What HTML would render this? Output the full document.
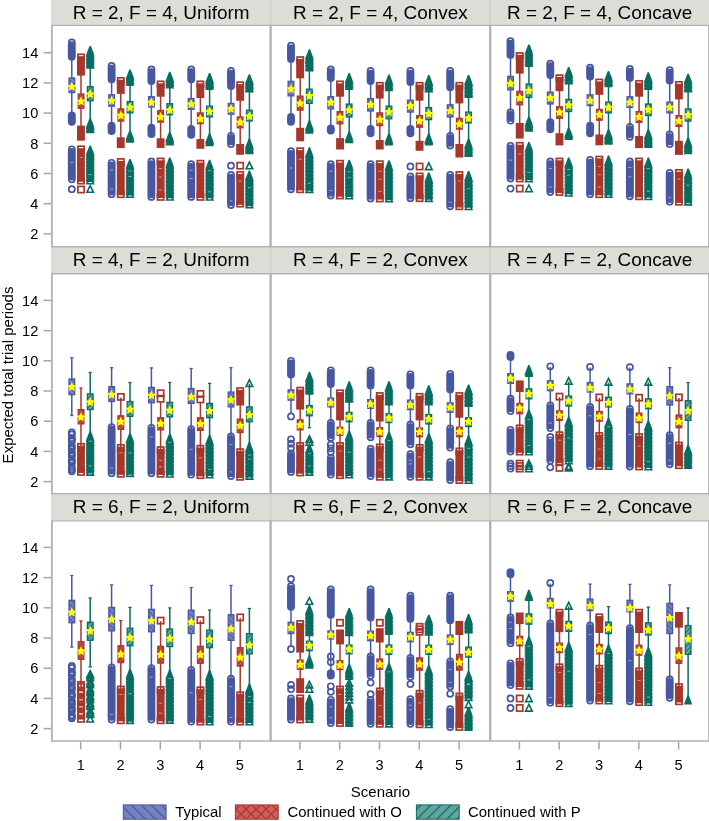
<!DOCTYPE html>
<html lang="en"><head><meta charset="utf-8"><title>Expected total trial periods by scenario</title>
<style>html,body{margin:0;padding:0;background:#fff}body{width:709px;height:821px;overflow:hidden;font-family:"Liberation Sans",Arial,sans-serif}svg{display:block}text{font-family:"Liberation Sans",Arial,sans-serif;fill:#000}</style>
</head><body>
<svg width="709" height="821" viewBox="0 0 709 821">
<defs>
<pattern id="hb" width="3.4" height="3.4" patternUnits="userSpaceOnUse" patternTransform="rotate(45)"><rect width="4" height="4" fill="#7482bd"/><line x1="0" y1="0.5" x2="4" y2="0.5" stroke="#4757a2" stroke-width="0.9"/></pattern>
<pattern id="hr" width="2.7" height="2.7" patternUnits="userSpaceOnUse" patternTransform="rotate(45)"><rect width="4" height="4" fill="#cf5d59"/><path d="M0 0.5H4M0.5 0V4" stroke="#a7372b" stroke-width="0.9"/></pattern>
<pattern id="hg" width="3.4" height="3.4" patternUnits="userSpaceOnUse" patternTransform="rotate(-45)"><rect width="4" height="4" fill="#62a59f"/><line x1="0" y1="0.5" x2="4" y2="0.5" stroke="#086c61" stroke-width="0.9"/></pattern>
<pattern id="lb" width="7.1" height="7.1" patternUnits="userSpaceOnUse" patternTransform="rotate(45)"><rect width="8" height="8" fill="#7482bd"/><line x1="0" y1="0.6" x2="8" y2="0.6" stroke="#4757a2" stroke-width="1.2"/></pattern>
<pattern id="lr" width="7.1" height="7.1" patternUnits="userSpaceOnUse" patternTransform="rotate(45)"><rect width="8" height="8" fill="#cf5d59"/><path d="M0 0.6H8M0.6 0V8" stroke="#a7372b" stroke-width="1.1"/></pattern>
<pattern id="lg" width="7.1" height="7.1" patternUnits="userSpaceOnUse" patternTransform="rotate(-45)"><rect width="8" height="8" fill="#62a59f"/><line x1="0" y1="0.6" x2="8" y2="0.6" stroke="#086c61" stroke-width="1.2"/></pattern>
<path id="st" d="M0.00 -5.00L1.47 -2.02L4.76 -1.55L2.38 0.77L2.94 4.05L0.00 2.50L-2.94 4.05L-2.38 0.77L-4.76 -1.55L-1.47 -2.02Z" fill="#ffff00"/>
<circle id="mc" r="3.05" fill="none" stroke="#4757a2" stroke-width="1.7"/>
<rect id="ms" x="-3.1" y="-3.1" width="6.2" height="6.2" fill="none" stroke="#a7372b" stroke-width="1.7"/>
<path id="mt" d="M0 -3.6L3.3 3.1H-3.3Z" fill="none" stroke="#086c61" stroke-width="1.6" stroke-linejoin="miter"/>
</defs>
<rect width="709" height="821" fill="#fff"/>
<rect x="51" y="0" width="658.9" height="24.9" fill="#dbddd7"/>
<line x1="270.6" y1="0" x2="270.6" y2="24.9" stroke="#cfd1cc" stroke-width="1.6"/>
<line x1="490.2" y1="0" x2="490.2" y2="24.9" stroke="#cfd1cc" stroke-width="1.6"/>
<rect x="51" y="247.3" width="658.9" height="25.9" fill="#dbddd7"/>
<line x1="270.6" y1="247.3" x2="270.6" y2="273.2" stroke="#cfd1cc" stroke-width="1.6"/>
<line x1="490.2" y1="247.3" x2="490.2" y2="273.2" stroke="#cfd1cc" stroke-width="1.6"/>
<rect x="51" y="494" width="658.9" height="26.4" fill="#dbddd7"/>
<line x1="270.6" y1="494" x2="270.6" y2="520.4" stroke="#cfd1cc" stroke-width="1.6"/>
<line x1="490.2" y1="494" x2="490.2" y2="520.4" stroke="#cfd1cc" stroke-width="1.6"/>
<line x1="51" y1="25.4" x2="709.9" y2="25.4" stroke="#b2b2b2" stroke-width="1.4"/>
<line x1="51" y1="246.7" x2="709.9" y2="246.7" stroke="#b2b2b2" stroke-width="1.4"/>
<line x1="51.9" y1="24.9" x2="51.9" y2="247.4" stroke="#b2b2b2" stroke-width="1.8"/>
<line x1="270.6" y1="24.9" x2="270.6" y2="247.4" stroke="#b2b2b2" stroke-width="2.4"/>
<line x1="490.2" y1="24.9" x2="490.2" y2="247.4" stroke="#b2b2b2" stroke-width="2.4"/>
<line x1="709" y1="24.9" x2="709" y2="247.4" stroke="#b2b2b2" stroke-width="1.8"/>
<line x1="51" y1="273.7" x2="709.9" y2="273.7" stroke="#b2b2b2" stroke-width="1.4"/>
<line x1="51" y1="493.6" x2="709.9" y2="493.6" stroke="#b2b2b2" stroke-width="1.4"/>
<line x1="51.9" y1="273.2" x2="51.9" y2="494.3" stroke="#b2b2b2" stroke-width="1.8"/>
<line x1="270.6" y1="273.2" x2="270.6" y2="494.3" stroke="#b2b2b2" stroke-width="2.4"/>
<line x1="490.2" y1="273.2" x2="490.2" y2="494.3" stroke="#b2b2b2" stroke-width="2.4"/>
<line x1="709" y1="273.2" x2="709" y2="494.3" stroke="#b2b2b2" stroke-width="1.8"/>
<line x1="51" y1="520.9" x2="709.9" y2="520.9" stroke="#b2b2b2" stroke-width="1.4"/>
<line x1="51" y1="741" x2="709.9" y2="741" stroke="#b2b2b2" stroke-width="1.4"/>
<line x1="51.9" y1="520.4" x2="51.9" y2="741.7" stroke="#b2b2b2" stroke-width="1.8"/>
<line x1="270.6" y1="520.4" x2="270.6" y2="741.7" stroke="#b2b2b2" stroke-width="2.4"/>
<line x1="490.2" y1="520.4" x2="490.2" y2="741.7" stroke="#b2b2b2" stroke-width="2.4"/>
<line x1="709" y1="520.4" x2="709" y2="741.7" stroke="#b2b2b2" stroke-width="1.8"/>
<text x="161.2" y="18.6" font-size="18.95" text-anchor="middle">R = 2, F = 4, Uniform</text>
<text x="380.4" y="18.6" font-size="18.95" text-anchor="middle">R = 2, F = 4, Convex</text>
<text x="599.6" y="18.6" font-size="18.95" text-anchor="middle">R = 2, F = 4, Concave</text>
<text x="161.2" y="266.3" font-size="18.95" text-anchor="middle">R = 4, F = 2, Uniform</text>
<text x="380.4" y="266.3" font-size="18.95" text-anchor="middle">R = 4, F = 2, Convex</text>
<text x="599.6" y="266.3" font-size="18.95" text-anchor="middle">R = 4, F = 2, Concave</text>
<text x="161.2" y="513" font-size="18.95" text-anchor="middle">R = 6, F = 2, Uniform</text>
<text x="380.4" y="513" font-size="18.95" text-anchor="middle">R = 6, F = 2, Convex</text>
<text x="599.6" y="513" font-size="18.95" text-anchor="middle">R = 6, F = 2, Concave</text>
<line x1="43.6" y1="52.7" x2="51" y2="52.7" stroke="#a6a6a6" stroke-width="1.5"/>
<text x="38.3" y="57.9" font-size="14.6" text-anchor="end">14</text>
<line x1="43.6" y1="82.9" x2="51" y2="82.9" stroke="#a6a6a6" stroke-width="1.5"/>
<text x="38.3" y="88.1" font-size="14.6" text-anchor="end">12</text>
<line x1="43.6" y1="113.1" x2="51" y2="113.1" stroke="#a6a6a6" stroke-width="1.5"/>
<text x="38.3" y="118.3" font-size="14.6" text-anchor="end">10</text>
<line x1="43.6" y1="143.3" x2="51" y2="143.3" stroke="#a6a6a6" stroke-width="1.5"/>
<text x="38.3" y="148.5" font-size="14.6" text-anchor="end">8</text>
<line x1="43.6" y1="173.5" x2="51" y2="173.5" stroke="#a6a6a6" stroke-width="1.5"/>
<text x="38.3" y="178.7" font-size="14.6" text-anchor="end">6</text>
<line x1="43.6" y1="203.7" x2="51" y2="203.7" stroke="#a6a6a6" stroke-width="1.5"/>
<text x="38.3" y="208.9" font-size="14.6" text-anchor="end">4</text>
<line x1="43.6" y1="233.9" x2="51" y2="233.9" stroke="#a6a6a6" stroke-width="1.5"/>
<text x="38.3" y="239.1" font-size="14.6" text-anchor="end">2</text>
<line x1="43.6" y1="300.4" x2="51" y2="300.4" stroke="#a6a6a6" stroke-width="1.5"/>
<text x="38.3" y="305.6" font-size="14.6" text-anchor="end">14</text>
<line x1="43.6" y1="330.6" x2="51" y2="330.6" stroke="#a6a6a6" stroke-width="1.5"/>
<text x="38.3" y="335.8" font-size="14.6" text-anchor="end">12</text>
<line x1="43.6" y1="360.8" x2="51" y2="360.8" stroke="#a6a6a6" stroke-width="1.5"/>
<text x="38.3" y="366" font-size="14.6" text-anchor="end">10</text>
<line x1="43.6" y1="391" x2="51" y2="391" stroke="#a6a6a6" stroke-width="1.5"/>
<text x="38.3" y="396.2" font-size="14.6" text-anchor="end">8</text>
<line x1="43.6" y1="421.2" x2="51" y2="421.2" stroke="#a6a6a6" stroke-width="1.5"/>
<text x="38.3" y="426.4" font-size="14.6" text-anchor="end">6</text>
<line x1="43.6" y1="451.4" x2="51" y2="451.4" stroke="#a6a6a6" stroke-width="1.5"/>
<text x="38.3" y="456.6" font-size="14.6" text-anchor="end">4</text>
<line x1="43.6" y1="481.6" x2="51" y2="481.6" stroke="#a6a6a6" stroke-width="1.5"/>
<text x="38.3" y="486.8" font-size="14.6" text-anchor="end">2</text>
<line x1="43.6" y1="547.4" x2="51" y2="547.4" stroke="#a6a6a6" stroke-width="1.5"/>
<text x="38.3" y="552.6" font-size="14.6" text-anchor="end">14</text>
<line x1="43.6" y1="577.6" x2="51" y2="577.6" stroke="#a6a6a6" stroke-width="1.5"/>
<text x="38.3" y="582.8" font-size="14.6" text-anchor="end">12</text>
<line x1="43.6" y1="607.8" x2="51" y2="607.8" stroke="#a6a6a6" stroke-width="1.5"/>
<text x="38.3" y="613" font-size="14.6" text-anchor="end">10</text>
<line x1="43.6" y1="638" x2="51" y2="638" stroke="#a6a6a6" stroke-width="1.5"/>
<text x="38.3" y="643.2" font-size="14.6" text-anchor="end">8</text>
<line x1="43.6" y1="668.2" x2="51" y2="668.2" stroke="#a6a6a6" stroke-width="1.5"/>
<text x="38.3" y="673.4" font-size="14.6" text-anchor="end">6</text>
<line x1="43.6" y1="698.4" x2="51" y2="698.4" stroke="#a6a6a6" stroke-width="1.5"/>
<text x="38.3" y="703.6" font-size="14.6" text-anchor="end">4</text>
<line x1="43.6" y1="728.6" x2="51" y2="728.6" stroke="#a6a6a6" stroke-width="1.5"/>
<text x="38.3" y="733.8" font-size="14.6" text-anchor="end">2</text>
<line x1="80.7" y1="741.5" x2="80.7" y2="749.5" stroke="#a6a6a6" stroke-width="1.5"/>
<text x="80.7" y="770.3" font-size="14.6" text-anchor="middle">1</text>
<line x1="120.5" y1="741.5" x2="120.5" y2="749.5" stroke="#a6a6a6" stroke-width="1.5"/>
<text x="120.5" y="770.3" font-size="14.6" text-anchor="middle">2</text>
<line x1="160.3" y1="741.5" x2="160.3" y2="749.5" stroke="#a6a6a6" stroke-width="1.5"/>
<text x="160.3" y="770.3" font-size="14.6" text-anchor="middle">3</text>
<line x1="200.1" y1="741.5" x2="200.1" y2="749.5" stroke="#a6a6a6" stroke-width="1.5"/>
<text x="200.1" y="770.3" font-size="14.6" text-anchor="middle">4</text>
<line x1="239.9" y1="741.5" x2="239.9" y2="749.5" stroke="#a6a6a6" stroke-width="1.5"/>
<text x="239.9" y="770.3" font-size="14.6" text-anchor="middle">5</text>
<line x1="299.9" y1="741.5" x2="299.9" y2="749.5" stroke="#a6a6a6" stroke-width="1.5"/>
<text x="299.9" y="770.3" font-size="14.6" text-anchor="middle">1</text>
<line x1="339.7" y1="741.5" x2="339.7" y2="749.5" stroke="#a6a6a6" stroke-width="1.5"/>
<text x="339.7" y="770.3" font-size="14.6" text-anchor="middle">2</text>
<line x1="379.5" y1="741.5" x2="379.5" y2="749.5" stroke="#a6a6a6" stroke-width="1.5"/>
<text x="379.5" y="770.3" font-size="14.6" text-anchor="middle">3</text>
<line x1="419.3" y1="741.5" x2="419.3" y2="749.5" stroke="#a6a6a6" stroke-width="1.5"/>
<text x="419.3" y="770.3" font-size="14.6" text-anchor="middle">4</text>
<line x1="459.1" y1="741.5" x2="459.1" y2="749.5" stroke="#a6a6a6" stroke-width="1.5"/>
<text x="459.1" y="770.3" font-size="14.6" text-anchor="middle">5</text>
<line x1="519.4" y1="741.5" x2="519.4" y2="749.5" stroke="#a6a6a6" stroke-width="1.5"/>
<text x="519.4" y="770.3" font-size="14.6" text-anchor="middle">1</text>
<line x1="559.2" y1="741.5" x2="559.2" y2="749.5" stroke="#a6a6a6" stroke-width="1.5"/>
<text x="559.2" y="770.3" font-size="14.6" text-anchor="middle">2</text>
<line x1="599" y1="741.5" x2="599" y2="749.5" stroke="#a6a6a6" stroke-width="1.5"/>
<text x="599" y="770.3" font-size="14.6" text-anchor="middle">3</text>
<line x1="638.8" y1="741.5" x2="638.8" y2="749.5" stroke="#a6a6a6" stroke-width="1.5"/>
<text x="638.8" y="770.3" font-size="14.6" text-anchor="middle">4</text>
<line x1="678.6" y1="741.5" x2="678.6" y2="749.5" stroke="#a6a6a6" stroke-width="1.5"/>
<text x="678.6" y="770.3" font-size="14.6" text-anchor="middle">5</text>
<text x="380.4" y="797.2" font-size="15" text-anchor="middle">Scenario</text>
<text transform="translate(12.6 375) rotate(-90)" font-size="15" text-anchor="middle">Expected total trial periods</text>
<rect x="123.3" y="804.9" width="42.8" height="14.3" fill="url(#lb)" stroke="#4757a2" stroke-width="1"/>
<text x="175.3" y="817.3" font-size="14.9">Typical</text>
<rect x="235.4" y="804.9" width="42.8" height="14.3" fill="url(#lr)" stroke="#a7372b" stroke-width="1"/>
<text x="287.5" y="817.3" font-size="14.9">Continued with O</text>
<rect x="416.4" y="804.9" width="42.8" height="14.3" fill="url(#lg)" stroke="#086c61" stroke-width="1"/>
<text x="468" y="817.3" font-size="14.9">Continued with P</text>
<g>
<line x1="71.8" y1="57.7" x2="71.8" y2="118.1" stroke="#4757a2" stroke-width="1.5"/>
<line x1="71.8" y1="45.2" x2="71.8" y2="56.8" stroke="#4757a2" stroke-width="7.9" stroke-linecap="round"/>
<use href="#mc" x="71.8" y="42.5"/>
<line x1="71.8" y1="115.5" x2="71.8" y2="121.7" stroke="#4757a2" stroke-width="7.9" stroke-linecap="round"/>
<line x1="71.8" y1="152" x2="71.8" y2="176.6" stroke="#4757a2" stroke-width="7.9" stroke-linecap="round"/>
<use href="#mc" x="71.8" y="149.3"/>
<use href="#mc" x="71.8" y="179.3"/>
<line x1="70.3" y1="162.4" x2="73.3" y2="162.4" stroke="#fff" stroke-width="0.8" opacity="0.6"/>
<use href="#mc" x="71.8" y="189.2"/>
<rect x="69" y="78" width="5.7" height="14.6" fill="url(#hb)" stroke="#4757a2" stroke-width="1.25"/>
<line x1="69" y1="85.8" x2="74.6" y2="85.8" stroke="#4757a2" stroke-width="1"/>
<use href="#st" x="71.8" y="86.7"/>
<line x1="81" y1="72.6" x2="81" y2="132.1" stroke="#a7372b" stroke-width="1.5"/>
<rect x="77" y="56.2" width="7.9" height="19.4" fill="#a7372b"/>
<use href="#ms" x="81" y="57.4"/>
<rect x="77" y="125.6" width="7.9" height="15.1" fill="#a7372b"/>
<rect x="77" y="148.2" width="7.9" height="33.6" fill="#a7372b"/>
<use href="#ms" x="81" y="149.3"/>
<use href="#ms" x="81" y="180.6"/>
<line x1="79.5" y1="157.4" x2="82.5" y2="157.4" stroke="#fff" stroke-width="0.8" opacity="0.6"/>
<use href="#ms" x="81" y="189.5"/>
<rect x="78.2" y="94" width="5.7" height="14.3" fill="url(#hr)" stroke="#a7372b" stroke-width="1.25"/>
<line x1="78.2" y1="101.6" x2="83.8" y2="101.6" stroke="#a7372b" stroke-width="1"/>
<use href="#st" x="81" y="101.5"/>
<line x1="90.2" y1="65.8" x2="90.2" y2="124.8" stroke="#086c61" stroke-width="1.5"/>
<path d="M89.5 46.1h1.4L93.9 53.8V68.8H86.5V53.8Z" fill="#086c61"/>
<path d="M86.5 54.3V68.8M93.9 55.1V68.8" stroke="#086c61" stroke-width="0.9" stroke-dasharray="3 0.6" fill="none"/>
<path d="M89.5 118.3h1.4L93.9 126V133.2H86.5V126Z" fill="#086c61"/>
<path d="M86.5 126.5V133.2M93.9 127.3V133.2" stroke="#086c61" stroke-width="0.9" stroke-dasharray="3 0.6" fill="none"/>
<path d="M89.5 145.4h1.4L93.9 153V182.1H86.5V153Z" fill="#086c61"/>
<path d="M86.5 153.6V182.1M93.9 154.4V182.1" stroke="#086c61" stroke-width="0.9" stroke-dasharray="3 0.6" fill="none"/>
<use href="#mt" x="90.2" y="180.7"/>
<line x1="88.7" y1="174.6" x2="91.7" y2="174.6" stroke="#fff" stroke-width="0.8" opacity="0.6"/>
<use href="#mt" x="90.2" y="189.2"/>
<rect x="87.4" y="86.7" width="5.7" height="14.1" fill="url(#hg)" stroke="#086c61" stroke-width="1.25"/>
<line x1="87.4" y1="94.2" x2="93" y2="94.2" stroke="#086c61" stroke-width="1"/>
<use href="#st" x="90.2" y="94.2"/>
<line x1="111.6" y1="80.2" x2="111.6" y2="128.3" stroke="#4757a2" stroke-width="1.5"/>
<line x1="111.6" y1="68.7" x2="111.6" y2="79.2" stroke="#4757a2" stroke-width="7.9" stroke-linecap="round"/>
<use href="#mc" x="111.6" y="66"/>
<line x1="111.6" y1="125.8" x2="111.6" y2="131.1" stroke="#4757a2" stroke-width="7.9" stroke-linecap="round"/>
<line x1="111.6" y1="165.5" x2="111.6" y2="191.5" stroke="#4757a2" stroke-width="7.9" stroke-linecap="round"/>
<use href="#mc" x="111.6" y="162.8"/>
<use href="#mc" x="111.6" y="194.2"/>
<line x1="110.1" y1="169.9" x2="113.1" y2="169.9" stroke="#fff" stroke-width="0.8" opacity="0.6"/>
<line x1="110.1" y1="189.1" x2="113.1" y2="189.1" stroke="#fff" stroke-width="0.8" opacity="0.6"/>
<rect x="108.8" y="94.8" width="5.7" height="11.4" fill="url(#hb)" stroke="#4757a2" stroke-width="1.25"/>
<line x1="108.8" y1="101" x2="114.4" y2="101" stroke="#4757a2" stroke-width="1"/>
<use href="#st" x="111.6" y="100.7"/>
<line x1="120.8" y1="91" x2="120.8" y2="143.8" stroke="#a7372b" stroke-width="1.5"/>
<rect x="116.8" y="79.7" width="7.9" height="14.2" fill="#a7372b"/>
<use href="#ms" x="120.8" y="80.9"/>
<rect x="116.8" y="137.3" width="7.9" height="10.8" fill="#a7372b"/>
<rect x="116.8" y="160.9" width="7.9" height="34.4" fill="#a7372b"/>
<use href="#ms" x="120.8" y="162"/>
<use href="#ms" x="120.8" y="194.2"/>
<rect x="118" y="108.9" width="5.7" height="12.2" fill="url(#hr)" stroke="#a7372b" stroke-width="1.25"/>
<line x1="118" y1="115.4" x2="123.6" y2="115.4" stroke="#a7372b" stroke-width="1"/>
<use href="#st" x="120.8" y="115.6"/>
<line x1="130" y1="82.9" x2="130" y2="137" stroke="#086c61" stroke-width="1.5"/>
<path d="M129.3 69.6h1.4L133.7 77.3V85.9H126.3V77.3Z" fill="#086c61"/>
<path d="M126.3 77.8V85.9M133.7 78.6V85.9" stroke="#086c61" stroke-width="0.9" stroke-dasharray="3 0.6" fill="none"/>
<path d="M129.3 130.5h1.4L133.7 138.1V142.7H126.3V138.1Z" fill="#086c61"/>
<path d="M126.3 138.7V142.7M133.7 139.5V142.7" stroke="#086c61" stroke-width="0.9" stroke-dasharray="3 0.6" fill="none"/>
<path d="M129.3 158.9h1.4L133.7 166.5V195.6H126.3V166.5Z" fill="#086c61"/>
<path d="M126.3 167.1V195.6M133.7 167.9V195.6" stroke="#086c61" stroke-width="0.9" stroke-dasharray="3 0.6" fill="none"/>
<use href="#mt" x="130" y="194.2"/>
<line x1="128.5" y1="170.9" x2="131.5" y2="170.9" stroke="#fff" stroke-width="0.8" opacity="0.6"/>
<line x1="128.5" y1="176.5" x2="131.5" y2="176.5" stroke="#fff" stroke-width="0.8" opacity="0.6"/>
<rect x="127.2" y="101.5" width="5.7" height="11.4" fill="url(#hg)" stroke="#086c61" stroke-width="1.25"/>
<line x1="127.2" y1="107.7" x2="132.8" y2="107.7" stroke="#086c61" stroke-width="1"/>
<use href="#st" x="130" y="107.5"/>
<line x1="151.4" y1="82" x2="151.4" y2="130.2" stroke="#4757a2" stroke-width="1.5"/>
<line x1="151.4" y1="72.2" x2="151.4" y2="81.1" stroke="#4757a2" stroke-width="7.9" stroke-linecap="round"/>
<use href="#mc" x="151.4" y="69.5"/>
<line x1="151.4" y1="127.7" x2="151.4" y2="134.1" stroke="#4757a2" stroke-width="7.9" stroke-linecap="round"/>
<line x1="151.4" y1="164.2" x2="151.4" y2="194.2" stroke="#4757a2" stroke-width="7.9" stroke-linecap="round"/>
<use href="#mc" x="151.4" y="161.5"/>
<use href="#mc" x="151.4" y="196.9"/>
<rect x="148.6" y="96.7" width="5.7" height="10.3" fill="url(#hb)" stroke="#4757a2" stroke-width="1.25"/>
<line x1="148.6" y1="102.3" x2="154.2" y2="102.3" stroke="#4757a2" stroke-width="1"/>
<use href="#st" x="151.4" y="102.6"/>
<line x1="160.6" y1="93.7" x2="160.6" y2="144.8" stroke="#a7372b" stroke-width="1.5"/>
<rect x="156.7" y="83.3" width="7.9" height="13.4" fill="#a7372b"/>
<use href="#ms" x="160.6" y="84.4"/>
<rect x="156.7" y="138.3" width="7.9" height="9.7" fill="#a7372b"/>
<rect x="156.7" y="160.3" width="7.9" height="37.7" fill="#a7372b"/>
<use href="#ms" x="160.6" y="161.5"/>
<use href="#ms" x="160.6" y="196.9"/>
<line x1="159.1" y1="168.5" x2="162.1" y2="168.5" stroke="#fff" stroke-width="0.8" opacity="0.6"/>
<line x1="159.1" y1="177" x2="162.1" y2="177" stroke="#fff" stroke-width="0.8" opacity="0.6"/>
<line x1="159.1" y1="189.8" x2="162.1" y2="189.8" stroke="#fff" stroke-width="0.8" opacity="0.6"/>
<rect x="157.8" y="110.5" width="5.7" height="11.6" fill="url(#hr)" stroke="#a7372b" stroke-width="1.25"/>
<line x1="157.8" y1="116.8" x2="163.4" y2="116.8" stroke="#a7372b" stroke-width="1"/>
<use href="#st" x="160.6" y="117"/>
<line x1="169.8" y1="85.6" x2="169.8" y2="138.3" stroke="#086c61" stroke-width="1.5"/>
<path d="M169.1 71.8h1.4L173.4 79.5V88.6H166.1V79.5Z" fill="#086c61"/>
<path d="M166.1 80V88.6M173.5 80.8V88.6" stroke="#086c61" stroke-width="0.9" stroke-dasharray="3 0.6" fill="none"/>
<path d="M169.1 131.8h1.4L173.4 139.5V145.4H166.1V139.5Z" fill="#086c61"/>
<path d="M166.1 140V145.4M173.5 140.8V145.4" stroke="#086c61" stroke-width="0.9" stroke-dasharray="3 0.6" fill="none"/>
<path d="M169.1 157.5h1.4L173.4 165.2V198.3H166.1V165.2Z" fill="#086c61"/>
<path d="M166.1 165.7V198.3M173.5 166.5V198.3" stroke="#086c61" stroke-width="0.9" stroke-dasharray="3 0.6" fill="none"/>
<use href="#mt" x="169.8" y="196.9"/>
<rect x="166.9" y="103.7" width="5.7" height="11.1" fill="url(#hg)" stroke="#086c61" stroke-width="1.25"/>
<line x1="166.9" y1="109.8" x2="172.6" y2="109.8" stroke="#086c61" stroke-width="1"/>
<use href="#st" x="169.8" y="110.2"/>
<line x1="191.2" y1="80.2" x2="191.2" y2="131.6" stroke="#4757a2" stroke-width="1.5"/>
<line x1="191.2" y1="72.2" x2="191.2" y2="79.2" stroke="#4757a2" stroke-width="7.9" stroke-linecap="round"/>
<use href="#mc" x="191.2" y="69.5"/>
<line x1="191.2" y1="129" x2="191.2" y2="134.7" stroke="#4757a2" stroke-width="7.9" stroke-linecap="round"/>
<line x1="191.2" y1="166.9" x2="191.2" y2="194.2" stroke="#4757a2" stroke-width="7.9" stroke-linecap="round"/>
<use href="#mc" x="191.2" y="164.2"/>
<use href="#mc" x="191.2" y="196.9"/>
<line x1="189.7" y1="170.2" x2="192.7" y2="170.2" stroke="#fff" stroke-width="0.8" opacity="0.6"/>
<line x1="189.7" y1="178.5" x2="192.7" y2="178.5" stroke="#fff" stroke-width="0.8" opacity="0.6"/>
<rect x="188.3" y="98.6" width="5.7" height="10.8" fill="url(#hb)" stroke="#4757a2" stroke-width="1.25"/>
<line x1="188.3" y1="104.5" x2="194" y2="104.5" stroke="#4757a2" stroke-width="1"/>
<use href="#st" x="191.2" y="104.3"/>
<line x1="200.4" y1="95" x2="200.4" y2="145.6" stroke="#a7372b" stroke-width="1.5"/>
<rect x="196.4" y="83.3" width="7.9" height="14.8" fill="#a7372b"/>
<use href="#ms" x="200.4" y="84.4"/>
<rect x="196.4" y="139.1" width="7.9" height="9.7" fill="#a7372b"/>
<rect x="196.4" y="162.5" width="7.9" height="35.5" fill="#a7372b"/>
<use href="#ms" x="200.4" y="163.7"/>
<use href="#ms" x="200.4" y="196.9"/>
<rect x="197.5" y="112.9" width="5.7" height="10.8" fill="url(#hr)" stroke="#a7372b" stroke-width="1.25"/>
<line x1="197.5" y1="118.8" x2="203.2" y2="118.8" stroke="#a7372b" stroke-width="1"/>
<use href="#st" x="200.4" y="118.9"/>
<line x1="209.6" y1="86.9" x2="209.6" y2="139.7" stroke="#086c61" stroke-width="1.5"/>
<path d="M208.9 73.1h1.4L213.2 80.8V89.9H205.9V80.8Z" fill="#086c61"/>
<path d="M205.9 81.3V89.9M213.3 82.1V89.9" stroke="#086c61" stroke-width="0.9" stroke-dasharray="3 0.6" fill="none"/>
<path d="M208.9 133.2h1.4L213.2 140.9V146.2H205.9V140.9Z" fill="#086c61"/>
<path d="M205.9 141.4V146.2M213.3 142.2V146.2" stroke="#086c61" stroke-width="0.9" stroke-dasharray="3 0.6" fill="none"/>
<path d="M208.9 159.7h1.4L213.2 167.4V198.3H205.9V167.4Z" fill="#086c61"/>
<path d="M205.9 167.9V198.3M213.3 168.7V198.3" stroke="#086c61" stroke-width="0.9" stroke-dasharray="3 0.6" fill="none"/>
<use href="#mt" x="209.6" y="196.9"/>
<line x1="208.1" y1="170.7" x2="211.1" y2="170.7" stroke="#fff" stroke-width="0.8" opacity="0.6"/>
<line x1="208.1" y1="191.8" x2="211.1" y2="191.8" stroke="#fff" stroke-width="0.8" opacity="0.6"/>
<rect x="206.7" y="106.1" width="5.7" height="10.8" fill="url(#hg)" stroke="#086c61" stroke-width="1.25"/>
<line x1="206.7" y1="112.1" x2="212.4" y2="112.1" stroke="#086c61" stroke-width="1"/>
<use href="#st" x="209.6" y="111.6"/>
<line x1="231" y1="86.9" x2="231" y2="138.3" stroke="#4757a2" stroke-width="1.5"/>
<line x1="231" y1="73.6" x2="231" y2="86" stroke="#4757a2" stroke-width="7.9" stroke-linecap="round"/>
<use href="#mc" x="231" y="70.9"/>
<line x1="231" y1="138.5" x2="231" y2="141.4" stroke="#4757a2" stroke-width="7.9" stroke-linecap="round"/>
<use href="#mc" x="231" y="135.8"/>
<use href="#mc" x="231" y="144.1"/>
<line x1="231" y1="177.7" x2="231" y2="202.3" stroke="#4757a2" stroke-width="7.9" stroke-linecap="round"/>
<use href="#mc" x="231" y="175"/>
<use href="#mc" x="231" y="205"/>
<line x1="229.5" y1="200.9" x2="232.5" y2="200.9" stroke="#fff" stroke-width="0.8" opacity="0.6"/>
<use href="#mc" x="231" y="165.7"/>
<rect x="228.2" y="103.4" width="5.7" height="10.8" fill="url(#hb)" stroke="#4757a2" stroke-width="1.25"/>
<line x1="228.2" y1="109.4" x2="233.8" y2="109.4" stroke="#4757a2" stroke-width="1"/>
<use href="#st" x="231" y="108.9"/>
<line x1="240.2" y1="97.7" x2="240.2" y2="150.5" stroke="#a7372b" stroke-width="1.5"/>
<rect x="236.2" y="84.1" width="7.9" height="16.7" fill="#a7372b"/>
<use href="#ms" x="240.2" y="85.2"/>
<rect x="236.2" y="144" width="7.9" height="10.8" fill="#a7372b"/>
<rect x="236.2" y="173.9" width="7.9" height="30.9" fill="#a7372b"/>
<use href="#ms" x="240.2" y="175"/>
<use href="#ms" x="240.2" y="203.6"/>
<line x1="238.7" y1="181.1" x2="241.7" y2="181.1" stroke="#fff" stroke-width="0.8" opacity="0.6"/>
<use href="#ms" x="240.2" y="165.7"/>
<rect x="237.3" y="117" width="5.7" height="10.8" fill="url(#hr)" stroke="#a7372b" stroke-width="1.25"/>
<line x1="237.3" y1="122.9" x2="243" y2="122.9" stroke="#a7372b" stroke-width="1"/>
<use href="#st" x="240.2" y="122.4"/>
<line x1="249.4" y1="89.6" x2="249.4" y2="145.1" stroke="#086c61" stroke-width="1.5"/>
<path d="M248.7 74.2h1.4L253 81.9V92.6H245.7V81.9Z" fill="#086c61"/>
<path d="M245.7 82.4V92.6M253.1 83.2V92.6" stroke="#086c61" stroke-width="0.9" stroke-dasharray="3 0.6" fill="none"/>
<path d="M248.7 138.6h1.4L253 146.3V154.3H245.7V146.3Z" fill="#086c61"/>
<path d="M245.7 146.8V154.3M253.1 147.6V154.3" stroke="#086c61" stroke-width="0.9" stroke-dasharray="3 0.6" fill="none"/>
<path d="M248.7 170.5h1.4L253 178.2V205.9H245.7V178.2Z" fill="#086c61"/>
<path d="M245.7 178.7V205.9M253.1 179.5V205.9" stroke="#086c61" stroke-width="0.9" stroke-dasharray="3 0.6" fill="none"/>
<use href="#mt" x="249.4" y="204.5"/>
<line x1="247.9" y1="187.6" x2="250.9" y2="187.6" stroke="#fff" stroke-width="0.8" opacity="0.6"/>
<use href="#mt" x="249.4" y="165.7"/>
<rect x="246.5" y="110.2" width="5.7" height="10.8" fill="url(#hg)" stroke="#086c61" stroke-width="1.25"/>
<line x1="246.5" y1="116.1" x2="252.2" y2="116.1" stroke="#086c61" stroke-width="1"/>
<use href="#st" x="249.4" y="116.2"/>
</g>
<g>
<line x1="291" y1="59.9" x2="291" y2="119.4" stroke="#4757a2" stroke-width="1.5"/>
<line x1="291" y1="48.4" x2="291" y2="58.9" stroke="#4757a2" stroke-width="7.9" stroke-linecap="round"/>
<use href="#mc" x="291" y="45.7"/>
<line x1="291" y1="116.9" x2="291" y2="121.7" stroke="#4757a2" stroke-width="7.9" stroke-linecap="round"/>
<line x1="291" y1="153.9" x2="291" y2="186.6" stroke="#4757a2" stroke-width="7.9" stroke-linecap="round"/>
<use href="#mc" x="291" y="151.2"/>
<use href="#mc" x="291" y="189.3"/>
<line x1="289.5" y1="168" x2="292.5" y2="168" stroke="#fff" stroke-width="0.8" opacity="0.6"/>
<rect x="288.1" y="81.3" width="5.7" height="14.6" fill="url(#hb)" stroke="#4757a2" stroke-width="1.25"/>
<line x1="288.1" y1="89.1" x2="293.9" y2="89.1" stroke="#4757a2" stroke-width="1"/>
<use href="#st" x="291" y="89.1"/>
<line x1="300.2" y1="75.3" x2="300.2" y2="134.3" stroke="#a7372b" stroke-width="1.5"/>
<rect x="296.2" y="58.9" width="7.9" height="19.4" fill="#a7372b"/>
<use href="#ms" x="300.2" y="60.1"/>
<rect x="296.2" y="127.8" width="7.9" height="13.5" fill="#a7372b"/>
<rect x="296.2" y="150.1" width="7.9" height="40.4" fill="#a7372b"/>
<use href="#ms" x="300.2" y="151.2"/>
<use href="#ms" x="300.2" y="189.3"/>
<line x1="298.7" y1="159.3" x2="301.7" y2="159.3" stroke="#fff" stroke-width="0.8" opacity="0.6"/>
<rect x="297.3" y="96.1" width="5.7" height="14.1" fill="url(#hr)" stroke="#a7372b" stroke-width="1.25"/>
<line x1="297.3" y1="103.7" x2="303.1" y2="103.7" stroke="#a7372b" stroke-width="1"/>
<use href="#st" x="300.2" y="103.4"/>
<line x1="309.4" y1="68.5" x2="309.4" y2="126.7" stroke="#086c61" stroke-width="1.5"/>
<path d="M308.7 49.3h1.4L313 57V71.5H305.8V57Z" fill="#086c61"/>
<path d="M305.7 57.5V71.5M313.1 58.3V71.5" stroke="#086c61" stroke-width="0.9" stroke-dasharray="3 0.6" fill="none"/>
<path d="M308.7 120.2h1.4L313 127.9V133.7H305.8V127.9Z" fill="#086c61"/>
<path d="M305.7 128.4V133.7M313.1 129.2V133.7" stroke="#086c61" stroke-width="0.9" stroke-dasharray="3 0.6" fill="none"/>
<path d="M308.7 147.3h1.4L313 154.9V190.7H305.8V154.9Z" fill="#086c61"/>
<path d="M305.7 155.5V190.7M313.1 156.3V190.7" stroke="#086c61" stroke-width="0.9" stroke-dasharray="3 0.6" fill="none"/>
<use href="#mt" x="309.4" y="189.3"/>
<line x1="307.9" y1="183.2" x2="310.9" y2="183.2" stroke="#fff" stroke-width="0.8" opacity="0.6"/>
<rect x="306.5" y="89.1" width="5.7" height="14.3" fill="url(#hg)" stroke="#086c61" stroke-width="1.25"/>
<line x1="306.5" y1="96.8" x2="312.2" y2="96.8" stroke="#086c61" stroke-width="1"/>
<use href="#st" x="309.4" y="95.9"/>
<line x1="330.8" y1="78.8" x2="330.8" y2="131" stroke="#4757a2" stroke-width="1.5"/>
<line x1="330.8" y1="72.2" x2="330.8" y2="77.9" stroke="#4757a2" stroke-width="7.9" stroke-linecap="round"/>
<use href="#mc" x="330.8" y="69.5"/>
<line x1="330.8" y1="128.5" x2="330.8" y2="130.6" stroke="#4757a2" stroke-width="7.9" stroke-linecap="round"/>
<line x1="330.8" y1="166.9" x2="330.8" y2="192.8" stroke="#4757a2" stroke-width="7.9" stroke-linecap="round"/>
<use href="#mc" x="330.8" y="164.2"/>
<use href="#mc" x="330.8" y="195.5"/>
<line x1="329.3" y1="171.2" x2="332.3" y2="171.2" stroke="#fff" stroke-width="0.8" opacity="0.6"/>
<line x1="329.3" y1="190.5" x2="332.3" y2="190.5" stroke="#fff" stroke-width="0.8" opacity="0.6"/>
<rect x="327.9" y="96.7" width="5.7" height="12.2" fill="url(#hb)" stroke="#4757a2" stroke-width="1.25"/>
<line x1="327.9" y1="103.3" x2="333.7" y2="103.3" stroke="#4757a2" stroke-width="1"/>
<use href="#st" x="330.8" y="102.6"/>
<line x1="340" y1="93.7" x2="340" y2="144.6" stroke="#a7372b" stroke-width="1.5"/>
<rect x="336.1" y="83.3" width="7.9" height="13.4" fill="#a7372b"/>
<use href="#ms" x="340" y="84.4"/>
<rect x="336.1" y="138.1" width="7.9" height="11.4" fill="#a7372b"/>
<rect x="336.1" y="162.5" width="7.9" height="34.2" fill="#a7372b"/>
<use href="#ms" x="340" y="163.7"/>
<use href="#ms" x="340" y="195.5"/>
<rect x="337.1" y="111.6" width="5.7" height="12.2" fill="url(#hr)" stroke="#a7372b" stroke-width="1.25"/>
<line x1="337.1" y1="118.1" x2="342.9" y2="118.1" stroke="#a7372b" stroke-width="1"/>
<use href="#st" x="340" y="117.8"/>
<line x1="349.2" y1="86.9" x2="349.2" y2="137.8" stroke="#086c61" stroke-width="1.5"/>
<path d="M348.5 73.1h1.4L352.8 80.8V89.9H345.6V80.8Z" fill="#086c61"/>
<path d="M345.5 81.3V89.9M352.9 82.1V89.9" stroke="#086c61" stroke-width="0.9" stroke-dasharray="3 0.6" fill="none"/>
<path d="M348.5 131.3h1.4L352.8 139V143.2H345.6V139Z" fill="#086c61"/>
<path d="M345.5 139.5V143.2M352.9 140.3V143.2" stroke="#086c61" stroke-width="0.9" stroke-dasharray="3 0.6" fill="none"/>
<path d="M348.5 159.7h1.4L352.8 167.4V197H345.6V167.4Z" fill="#086c61"/>
<path d="M345.5 167.9V197M352.9 168.7V197" stroke="#086c61" stroke-width="0.9" stroke-dasharray="3 0.6" fill="none"/>
<use href="#mt" x="349.2" y="195.6"/>
<line x1="347.7" y1="171.7" x2="350.7" y2="171.7" stroke="#fff" stroke-width="0.8" opacity="0.6"/>
<line x1="347.7" y1="177.6" x2="350.7" y2="177.6" stroke="#fff" stroke-width="0.8" opacity="0.6"/>
<rect x="346.3" y="104" width="5.7" height="13" fill="url(#hg)" stroke="#086c61" stroke-width="1.25"/>
<line x1="346.3" y1="111" x2="352.1" y2="111" stroke="#086c61" stroke-width="1"/>
<use href="#st" x="349.2" y="110.2"/>
<line x1="370.6" y1="82" x2="370.6" y2="131.6" stroke="#4757a2" stroke-width="1.5"/>
<line x1="370.6" y1="73.6" x2="370.6" y2="81.1" stroke="#4757a2" stroke-width="7.9" stroke-linecap="round"/>
<use href="#mc" x="370.6" y="70.9"/>
<line x1="370.6" y1="129" x2="370.6" y2="133.3" stroke="#4757a2" stroke-width="7.9" stroke-linecap="round"/>
<line x1="370.6" y1="166.9" x2="370.6" y2="195.8" stroke="#4757a2" stroke-width="7.9" stroke-linecap="round"/>
<use href="#mc" x="370.6" y="164.2"/>
<use href="#mc" x="370.6" y="198.5"/>
<rect x="367.7" y="98.6" width="5.7" height="12.4" fill="url(#hb)" stroke="#4757a2" stroke-width="1.25"/>
<line x1="367.7" y1="105.3" x2="373.4" y2="105.3" stroke="#4757a2" stroke-width="1"/>
<use href="#st" x="370.6" y="104.8"/>
<line x1="379.8" y1="95.6" x2="379.8" y2="146.5" stroke="#a7372b" stroke-width="1.5"/>
<rect x="375.8" y="84.6" width="7.9" height="14" fill="#a7372b"/>
<use href="#ms" x="379.8" y="85.8"/>
<rect x="375.8" y="140" width="7.9" height="9.5" fill="#a7372b"/>
<rect x="375.8" y="163" width="7.9" height="36.6" fill="#a7372b"/>
<use href="#ms" x="379.8" y="164.2"/>
<use href="#ms" x="379.8" y="198.5"/>
<line x1="378.3" y1="171.2" x2="381.3" y2="171.2" stroke="#fff" stroke-width="0.8" opacity="0.6"/>
<line x1="378.3" y1="179.2" x2="381.3" y2="179.2" stroke="#fff" stroke-width="0.8" opacity="0.6"/>
<line x1="378.3" y1="191.4" x2="381.3" y2="191.4" stroke="#fff" stroke-width="0.8" opacity="0.6"/>
<rect x="376.9" y="112.9" width="5.7" height="12.7" fill="url(#hr)" stroke="#a7372b" stroke-width="1.25"/>
<line x1="376.9" y1="119.8" x2="382.6" y2="119.8" stroke="#a7372b" stroke-width="1"/>
<use href="#st" x="379.8" y="119.7"/>
<line x1="389" y1="88.3" x2="389" y2="139.7" stroke="#086c61" stroke-width="1.5"/>
<path d="M388.3 74.5h1.4L392.6 82.2V91.3H385.3V82.2Z" fill="#086c61"/>
<path d="M385.3 82.7V91.3M392.7 83.5V91.3" stroke="#086c61" stroke-width="0.9" stroke-dasharray="3 0.6" fill="none"/>
<path d="M388.3 133.2h1.4L392.6 140.9V145.4H385.3V140.9Z" fill="#086c61"/>
<path d="M385.3 141.4V145.4M392.7 142.2V145.4" stroke="#086c61" stroke-width="0.9" stroke-dasharray="3 0.6" fill="none"/>
<path d="M388.3 160.2h1.4L392.6 167.9V199.9H385.3V167.9Z" fill="#086c61"/>
<path d="M385.3 168.4V199.9M392.7 169.2V199.9" stroke="#086c61" stroke-width="0.9" stroke-dasharray="3 0.6" fill="none"/>
<use href="#mt" x="389" y="198.5"/>
<rect x="386.1" y="106.1" width="5.7" height="12.7" fill="url(#hg)" stroke="#086c61" stroke-width="1.25"/>
<line x1="386.1" y1="113" x2="391.8" y2="113" stroke="#086c61" stroke-width="1"/>
<use href="#st" x="389" y="112.1"/>
<line x1="410.4" y1="82.9" x2="410.4" y2="131.6" stroke="#4757a2" stroke-width="1.5"/>
<line x1="410.4" y1="73.6" x2="410.4" y2="81.9" stroke="#4757a2" stroke-width="7.9" stroke-linecap="round"/>
<use href="#mc" x="410.4" y="70.9"/>
<line x1="410.4" y1="129" x2="410.4" y2="133.3" stroke="#4757a2" stroke-width="7.9" stroke-linecap="round"/>
<line x1="410.4" y1="179.1" x2="410.4" y2="195.5" stroke="#4757a2" stroke-width="7.9" stroke-linecap="round"/>
<use href="#mc" x="410.4" y="176.4"/>
<use href="#mc" x="410.4" y="198.2"/>
<use href="#mc" x="410.4" y="166.5"/>
<rect x="407.5" y="100.2" width="5.7" height="11.9" fill="url(#hb)" stroke="#4757a2" stroke-width="1.25"/>
<line x1="407.5" y1="106.6" x2="413.2" y2="106.6" stroke="#4757a2" stroke-width="1"/>
<use href="#st" x="410.4" y="106.1"/>
<line x1="419.6" y1="97.7" x2="419.6" y2="147.3" stroke="#a7372b" stroke-width="1.5"/>
<rect x="415.6" y="84.6" width="7.9" height="16.1" fill="#a7372b"/>
<use href="#ms" x="419.6" y="85.8"/>
<rect x="415.6" y="140.8" width="7.9" height="10" fill="#a7372b"/>
<rect x="415.6" y="175.2" width="7.9" height="24.2" fill="#a7372b"/>
<use href="#ms" x="419.6" y="176.4"/>
<use href="#ms" x="419.6" y="198.2"/>
<use href="#ms" x="419.6" y="166.5"/>
<rect x="416.7" y="115.6" width="5.7" height="11.6" fill="url(#hr)" stroke="#a7372b" stroke-width="1.25"/>
<line x1="416.7" y1="121.9" x2="422.4" y2="121.9" stroke="#a7372b" stroke-width="1"/>
<use href="#st" x="419.6" y="121"/>
<line x1="428.8" y1="89.6" x2="428.8" y2="139.7" stroke="#086c61" stroke-width="1.5"/>
<path d="M428.1 75h1.4L432.4 82.7V92.6H425.1V82.7Z" fill="#086c61"/>
<path d="M425.1 83.2V92.6M432.5 84V92.6" stroke="#086c61" stroke-width="0.9" stroke-dasharray="3 0.6" fill="none"/>
<path d="M428.1 133.2h1.4L432.4 140.9V145.4H425.1V140.9Z" fill="#086c61"/>
<path d="M425.1 141.4V145.4M432.5 142.2V145.4" stroke="#086c61" stroke-width="0.9" stroke-dasharray="3 0.6" fill="none"/>
<path d="M428.1 172.4h1.4L432.4 180.1V199.7H425.1V180.1Z" fill="#086c61"/>
<path d="M425.1 180.6V199.7M432.5 181.4V199.7" stroke="#086c61" stroke-width="0.9" stroke-dasharray="3 0.6" fill="none"/>
<use href="#mt" x="428.8" y="198.3"/>
<use href="#mt" x="428.8" y="166.5"/>
<rect x="425.9" y="107.5" width="5.7" height="12.2" fill="url(#hg)" stroke="#086c61" stroke-width="1.25"/>
<line x1="425.9" y1="114.1" x2="431.6" y2="114.1" stroke="#086c61" stroke-width="1"/>
<use href="#st" x="428.8" y="113.7"/>
<line x1="450.2" y1="88.3" x2="450.2" y2="138.3" stroke="#4757a2" stroke-width="1.5"/>
<line x1="450.2" y1="73.6" x2="450.2" y2="87.3" stroke="#4757a2" stroke-width="7.9" stroke-linecap="round"/>
<use href="#mc" x="450.2" y="70.9"/>
<line x1="450.2" y1="138.5" x2="450.2" y2="142.8" stroke="#4757a2" stroke-width="7.9" stroke-linecap="round"/>
<use href="#mc" x="450.2" y="135.8"/>
<use href="#mc" x="450.2" y="145.5"/>
<line x1="450.2" y1="177.7" x2="450.2" y2="203.6" stroke="#4757a2" stroke-width="7.9" stroke-linecap="round"/>
<use href="#mc" x="450.2" y="175"/>
<use href="#mc" x="450.2" y="206.3"/>
<line x1="448.7" y1="202.3" x2="451.7" y2="202.3" stroke="#fff" stroke-width="0.8" opacity="0.6"/>
<rect x="447.3" y="104.8" width="5.7" height="12.2" fill="url(#hb)" stroke="#4757a2" stroke-width="1.25"/>
<line x1="447.3" y1="111.4" x2="453.1" y2="111.4" stroke="#4757a2" stroke-width="1"/>
<use href="#st" x="450.2" y="111"/>
<line x1="459.4" y1="100.4" x2="459.4" y2="150.5" stroke="#a7372b" stroke-width="1.5"/>
<rect x="455.4" y="84.6" width="7.9" height="18.8" fill="#a7372b"/>
<use href="#ms" x="459.4" y="85.8"/>
<rect x="455.4" y="144" width="7.9" height="13.5" fill="#a7372b"/>
<rect x="455.4" y="173.9" width="7.9" height="33.6" fill="#a7372b"/>
<use href="#ms" x="459.4" y="175"/>
<use href="#ms" x="459.4" y="206.3"/>
<line x1="457.9" y1="181.1" x2="460.9" y2="181.1" stroke="#fff" stroke-width="0.8" opacity="0.6"/>
<rect x="456.5" y="118.3" width="5.7" height="10.8" fill="url(#hr)" stroke="#a7372b" stroke-width="1.25"/>
<line x1="456.5" y1="124.2" x2="462.2" y2="124.2" stroke="#a7372b" stroke-width="1"/>
<use href="#st" x="459.4" y="124.3"/>
<line x1="468.6" y1="95" x2="468.6" y2="145.1" stroke="#086c61" stroke-width="1.5"/>
<path d="M467.9 75h1.4L472.2 82.7V98H464.9V82.7Z" fill="#086c61"/>
<path d="M464.9 83.2V98M472.3 84V98" stroke="#086c61" stroke-width="0.9" stroke-dasharray="3 0.6" fill="none"/>
<path d="M467.9 138.6h1.4L472.2 146.3V157H464.9V146.3Z" fill="#086c61"/>
<path d="M464.9 146.8V157M472.3 147.6V157" stroke="#086c61" stroke-width="0.9" stroke-dasharray="3 0.6" fill="none"/>
<path d="M467.9 171.1h1.4L472.2 178.7V207.8H464.9V178.7Z" fill="#086c61"/>
<path d="M464.9 179.3V207.8M472.3 180.1V207.8" stroke="#086c61" stroke-width="0.9" stroke-dasharray="3 0.6" fill="none"/>
<use href="#mt" x="468.6" y="206.4"/>
<line x1="467.1" y1="188.7" x2="470.1" y2="188.7" stroke="#fff" stroke-width="0.8" opacity="0.6"/>
<rect x="465.7" y="112.1" width="5.7" height="10.8" fill="url(#hg)" stroke="#086c61" stroke-width="1.25"/>
<line x1="465.7" y1="118" x2="471.4" y2="118" stroke="#086c61" stroke-width="1"/>
<use href="#st" x="468.6" y="118.3"/>
</g>
<g>
<line x1="510.5" y1="55.8" x2="510.5" y2="114.8" stroke="#4757a2" stroke-width="1.5"/>
<line x1="510.5" y1="43.8" x2="510.5" y2="54.9" stroke="#4757a2" stroke-width="7.9" stroke-linecap="round"/>
<use href="#mc" x="510.5" y="41.1"/>
<line x1="510.5" y1="115" x2="510.5" y2="117.9" stroke="#4757a2" stroke-width="7.9" stroke-linecap="round"/>
<use href="#mc" x="510.5" y="112.3"/>
<use href="#mc" x="510.5" y="120.6"/>
<line x1="510.5" y1="148.5" x2="510.5" y2="175.8" stroke="#4757a2" stroke-width="7.9" stroke-linecap="round"/>
<use href="#mc" x="510.5" y="145.8"/>
<use href="#mc" x="510.5" y="178.5"/>
<line x1="509" y1="160.1" x2="512" y2="160.1" stroke="#fff" stroke-width="0.8" opacity="0.6"/>
<use href="#mc" x="510.5" y="188.6"/>
<rect x="507.7" y="76.4" width="5.7" height="13.5" fill="url(#hb)" stroke="#4757a2" stroke-width="1.25"/>
<line x1="507.7" y1="83.7" x2="513.4" y2="83.7" stroke="#4757a2" stroke-width="1"/>
<use href="#st" x="510.5" y="83.7"/>
<line x1="519.7" y1="70.7" x2="519.7" y2="129.4" stroke="#a7372b" stroke-width="1.5"/>
<rect x="515.8" y="54.8" width="7.9" height="18.8" fill="#a7372b"/>
<use href="#ms" x="519.7" y="56"/>
<rect x="515.8" y="122.9" width="7.9" height="15.7" fill="#a7372b"/>
<rect x="515.8" y="144.7" width="7.9" height="35" fill="#a7372b"/>
<use href="#ms" x="519.7" y="145.8"/>
<use href="#ms" x="519.7" y="178.5"/>
<line x1="518.2" y1="153.9" x2="521.2" y2="153.9" stroke="#fff" stroke-width="0.8" opacity="0.6"/>
<use href="#ms" x="519.7" y="188.6"/>
<rect x="516.9" y="91.3" width="5.7" height="13.5" fill="url(#hr)" stroke="#a7372b" stroke-width="1.25"/>
<line x1="516.9" y1="98.5" x2="522.6" y2="98.5" stroke="#a7372b" stroke-width="1"/>
<use href="#st" x="519.7" y="98"/>
<line x1="528.9" y1="63.9" x2="528.9" y2="122.9" stroke="#086c61" stroke-width="1.5"/>
<path d="M528.2 44.5h1.4L532.6 52.1V66.9H525.3V52.1Z" fill="#086c61"/>
<path d="M525.2 52.7V66.9M532.6 53.5V66.9" stroke="#086c61" stroke-width="0.9" stroke-dasharray="3 0.6" fill="none"/>
<path d="M528.2 116.4h1.4L532.6 124.1V131.8H525.3V124.1Z" fill="#086c61"/>
<path d="M525.2 124.6V131.8M532.6 125.4V131.8" stroke="#086c61" stroke-width="0.9" stroke-dasharray="3 0.6" fill="none"/>
<path d="M528.2 141.9h1.4L532.6 149.5V179.9H525.3V149.5Z" fill="#086c61"/>
<path d="M525.2 150.1V179.9M532.6 150.9V179.9" stroke="#086c61" stroke-width="0.9" stroke-dasharray="3 0.6" fill="none"/>
<use href="#mt" x="528.9" y="178.5"/>
<line x1="527.4" y1="172.4" x2="530.4" y2="172.4" stroke="#fff" stroke-width="0.8" opacity="0.6"/>
<use href="#mt" x="528.9" y="188.6"/>
<rect x="526.1" y="84" width="5.7" height="13.5" fill="url(#hg)" stroke="#086c61" stroke-width="1.25"/>
<line x1="526.1" y1="91.2" x2="531.8" y2="91.2" stroke="#086c61" stroke-width="1"/>
<use href="#st" x="528.9" y="90.7"/>
<line x1="550.3" y1="76.1" x2="550.3" y2="124.8" stroke="#4757a2" stroke-width="1.5"/>
<line x1="550.3" y1="66.3" x2="550.3" y2="75.1" stroke="#4757a2" stroke-width="7.9" stroke-linecap="round"/>
<use href="#mc" x="550.3" y="63.6"/>
<line x1="550.3" y1="122.3" x2="550.3" y2="129.2" stroke="#4757a2" stroke-width="7.9" stroke-linecap="round"/>
<line x1="550.3" y1="164.2" x2="550.3" y2="189.3" stroke="#4757a2" stroke-width="7.9" stroke-linecap="round"/>
<use href="#mc" x="550.3" y="161.5"/>
<use href="#mc" x="550.3" y="192"/>
<line x1="548.8" y1="168.5" x2="551.8" y2="168.5" stroke="#fff" stroke-width="0.8" opacity="0.6"/>
<line x1="548.8" y1="186.9" x2="551.8" y2="186.9" stroke="#fff" stroke-width="0.8" opacity="0.6"/>
<rect x="547.4" y="92.1" width="5.7" height="11.9" fill="url(#hb)" stroke="#4757a2" stroke-width="1.25"/>
<line x1="547.4" y1="98.5" x2="553.1" y2="98.5" stroke="#4757a2" stroke-width="1"/>
<use href="#st" x="550.3" y="98"/>
<line x1="559.5" y1="88.3" x2="559.5" y2="139.7" stroke="#a7372b" stroke-width="1.5"/>
<rect x="555.5" y="77" width="7.9" height="14.2" fill="#a7372b"/>
<use href="#ms" x="559.5" y="78.2"/>
<rect x="555.5" y="133.2" width="7.9" height="12.2" fill="#a7372b"/>
<rect x="555.5" y="160.3" width="7.9" height="32.8" fill="#a7372b"/>
<use href="#ms" x="559.5" y="161.5"/>
<use href="#ms" x="559.5" y="192"/>
<rect x="556.6" y="106.7" width="5.7" height="11.6" fill="url(#hr)" stroke="#a7372b" stroke-width="1.25"/>
<line x1="556.6" y1="113" x2="562.4" y2="113" stroke="#a7372b" stroke-width="1"/>
<use href="#st" x="559.5" y="112.4"/>
<line x1="568.7" y1="81.5" x2="568.7" y2="133.7" stroke="#086c61" stroke-width="1.5"/>
<path d="M568 66.9h1.4L572.4 74.6V84.5H565.1V74.6Z" fill="#086c61"/>
<path d="M565 75.1V84.5M572.4 75.9V84.5" stroke="#086c61" stroke-width="0.9" stroke-dasharray="3 0.6" fill="none"/>
<path d="M568 127.2h1.4L572.4 134.9V140H565.1V134.9Z" fill="#086c61"/>
<path d="M565 135.4V140M572.4 136.2V140" stroke="#086c61" stroke-width="0.9" stroke-dasharray="3 0.6" fill="none"/>
<path d="M568 157.5h1.4L572.4 165.2V194.3H565.1V165.2Z" fill="#086c61"/>
<path d="M565 165.7V194.3M572.4 166.5V194.3" stroke="#086c61" stroke-width="0.9" stroke-dasharray="3 0.6" fill="none"/>
<use href="#mt" x="568.7" y="192.9"/>
<line x1="567.2" y1="169.5" x2="570.2" y2="169.5" stroke="#fff" stroke-width="0.8" opacity="0.6"/>
<line x1="567.2" y1="175.2" x2="570.2" y2="175.2" stroke="#fff" stroke-width="0.8" opacity="0.6"/>
<rect x="565.9" y="99.4" width="5.7" height="12.2" fill="url(#hg)" stroke="#086c61" stroke-width="1.25"/>
<line x1="565.9" y1="106" x2="571.6" y2="106" stroke="#086c61" stroke-width="1"/>
<use href="#st" x="568.7" y="105.3"/>
<line x1="590.1" y1="77.5" x2="590.1" y2="128.3" stroke="#4757a2" stroke-width="1.5"/>
<line x1="590.1" y1="70.3" x2="590.1" y2="76.5" stroke="#4757a2" stroke-width="7.9" stroke-linecap="round"/>
<use href="#mc" x="590.1" y="67.6"/>
<line x1="590.1" y1="125.8" x2="590.1" y2="133.3" stroke="#4757a2" stroke-width="7.9" stroke-linecap="round"/>
<line x1="590.1" y1="162.6" x2="590.1" y2="191.5" stroke="#4757a2" stroke-width="7.9" stroke-linecap="round"/>
<use href="#mc" x="590.1" y="159.9"/>
<use href="#mc" x="590.1" y="194.2"/>
<rect x="587.2" y="94.8" width="5.7" height="10.8" fill="url(#hb)" stroke="#4757a2" stroke-width="1.25"/>
<line x1="587.2" y1="100.7" x2="593" y2="100.7" stroke="#4757a2" stroke-width="1"/>
<use href="#st" x="590.1" y="100.7"/>
<line x1="599.3" y1="91.8" x2="599.3" y2="141" stroke="#a7372b" stroke-width="1.5"/>
<rect x="595.4" y="81.4" width="7.9" height="13.4" fill="#a7372b"/>
<use href="#ms" x="599.3" y="82.5"/>
<rect x="595.4" y="134.5" width="7.9" height="10.8" fill="#a7372b"/>
<rect x="595.4" y="158.4" width="7.9" height="36.9" fill="#a7372b"/>
<use href="#ms" x="599.3" y="159.6"/>
<use href="#ms" x="599.3" y="194.2"/>
<line x1="597.8" y1="166.6" x2="600.8" y2="166.6" stroke="#fff" stroke-width="0.8" opacity="0.6"/>
<line x1="597.8" y1="174.8" x2="600.8" y2="174.8" stroke="#fff" stroke-width="0.8" opacity="0.6"/>
<line x1="597.8" y1="187.1" x2="600.8" y2="187.1" stroke="#fff" stroke-width="0.8" opacity="0.6"/>
<rect x="596.5" y="109.4" width="5.7" height="10.8" fill="url(#hr)" stroke="#a7372b" stroke-width="1.25"/>
<line x1="596.5" y1="115.3" x2="602.2" y2="115.3" stroke="#a7372b" stroke-width="1"/>
<use href="#st" x="599.3" y="114.8"/>
<line x1="608.5" y1="84.2" x2="608.5" y2="135.6" stroke="#086c61" stroke-width="1.5"/>
<path d="M607.8 71h1.4L612.2 78.6V87.2H604.9V78.6Z" fill="#086c61"/>
<path d="M604.8 79.2V87.2M612.2 80V87.2" stroke="#086c61" stroke-width="0.9" stroke-dasharray="3 0.6" fill="none"/>
<path d="M607.8 129.1h1.4L612.2 136.8V144.8H604.9V136.8Z" fill="#086c61"/>
<path d="M604.8 137.3V144.8M612.2 138.1V144.8" stroke="#086c61" stroke-width="0.9" stroke-dasharray="3 0.6" fill="none"/>
<path d="M607.8 155.6h1.4L612.2 163.3V195.6H604.9V163.3Z" fill="#086c61"/>
<path d="M604.8 163.8V195.6M612.2 164.6V195.6" stroke="#086c61" stroke-width="0.9" stroke-dasharray="3 0.6" fill="none"/>
<use href="#mt" x="608.5" y="194.2"/>
<rect x="605.7" y="102.1" width="5.7" height="10.8" fill="url(#hg)" stroke="#086c61" stroke-width="1.25"/>
<line x1="605.7" y1="108" x2="611.4" y2="108" stroke="#086c61" stroke-width="1"/>
<use href="#st" x="608.5" y="107.5"/>
<line x1="629.9" y1="78.8" x2="629.9" y2="129.4" stroke="#4757a2" stroke-width="1.5"/>
<line x1="629.9" y1="71.7" x2="629.9" y2="77.9" stroke="#4757a2" stroke-width="7.9" stroke-linecap="round"/>
<use href="#mc" x="629.9" y="69"/>
<line x1="629.9" y1="129.6" x2="629.9" y2="134.1" stroke="#4757a2" stroke-width="7.9" stroke-linecap="round"/>
<use href="#mc" x="629.9" y="126.9"/>
<use href="#mc" x="629.9" y="136.8"/>
<line x1="629.9" y1="164.2" x2="629.9" y2="193.6" stroke="#4757a2" stroke-width="7.9" stroke-linecap="round"/>
<use href="#mc" x="629.9" y="161.5"/>
<use href="#mc" x="629.9" y="196.3"/>
<line x1="628.4" y1="167.5" x2="631.4" y2="167.5" stroke="#fff" stroke-width="0.8" opacity="0.6"/>
<line x1="628.4" y1="176.8" x2="631.4" y2="176.8" stroke="#fff" stroke-width="0.8" opacity="0.6"/>
<rect x="627" y="96.7" width="5.7" height="10.8" fill="url(#hb)" stroke="#4757a2" stroke-width="1.25"/>
<line x1="627" y1="102.6" x2="632.8" y2="102.6" stroke="#4757a2" stroke-width="1"/>
<use href="#st" x="629.9" y="102.6"/>
<line x1="639.1" y1="93.7" x2="639.1" y2="142.4" stroke="#a7372b" stroke-width="1.5"/>
<rect x="635.1" y="82.7" width="7.9" height="14" fill="#a7372b"/>
<use href="#ms" x="639.1" y="83.9"/>
<rect x="635.1" y="135.9" width="7.9" height="12.2" fill="#a7372b"/>
<rect x="635.1" y="160.3" width="7.9" height="37.1" fill="#a7372b"/>
<use href="#ms" x="639.1" y="161.5"/>
<use href="#ms" x="639.1" y="196.3"/>
<rect x="636.2" y="111.6" width="5.7" height="10.8" fill="url(#hr)" stroke="#a7372b" stroke-width="1.25"/>
<line x1="636.2" y1="117.5" x2="642" y2="117.5" stroke="#a7372b" stroke-width="1"/>
<use href="#st" x="639.1" y="117"/>
<line x1="648.3" y1="86.9" x2="648.3" y2="135.6" stroke="#086c61" stroke-width="1.5"/>
<path d="M647.6 72.3h1.4L652 80V89.9H644.7V80Z" fill="#086c61"/>
<path d="M644.6 80.5V89.9M652 81.3V89.9" stroke="#086c61" stroke-width="0.9" stroke-dasharray="3 0.6" fill="none"/>
<path d="M647.6 129.1h1.4L652 136.8V148.1H644.7V136.8Z" fill="#086c61"/>
<path d="M644.6 137.3V148.1M652 138.1V148.1" stroke="#086c61" stroke-width="0.9" stroke-dasharray="3 0.6" fill="none"/>
<path d="M647.6 157.5h1.4L652 165.2V197.8H644.7V165.2Z" fill="#086c61"/>
<path d="M644.6 165.7V197.8M652 166.5V197.8" stroke="#086c61" stroke-width="0.9" stroke-dasharray="3 0.6" fill="none"/>
<use href="#mt" x="648.3" y="196.4"/>
<line x1="646.8" y1="168.5" x2="649.8" y2="168.5" stroke="#fff" stroke-width="0.8" opacity="0.6"/>
<line x1="646.8" y1="191.3" x2="649.8" y2="191.3" stroke="#fff" stroke-width="0.8" opacity="0.6"/>
<rect x="645.5" y="104" width="5.7" height="11.6" fill="url(#hg)" stroke="#086c61" stroke-width="1.25"/>
<line x1="645.5" y1="110.3" x2="651.2" y2="110.3" stroke="#086c61" stroke-width="1"/>
<use href="#st" x="648.3" y="109.7"/>
<line x1="669.7" y1="81.5" x2="669.7" y2="137" stroke="#4757a2" stroke-width="1.5"/>
<line x1="669.7" y1="72.8" x2="669.7" y2="80.6" stroke="#4757a2" stroke-width="7.9" stroke-linecap="round"/>
<use href="#mc" x="669.7" y="70.1"/>
<line x1="669.7" y1="137.1" x2="669.7" y2="141.4" stroke="#4757a2" stroke-width="7.9" stroke-linecap="round"/>
<use href="#mc" x="669.7" y="134.4"/>
<use href="#mc" x="669.7" y="144.1"/>
<line x1="669.7" y1="175.6" x2="669.7" y2="199" stroke="#4757a2" stroke-width="7.9" stroke-linecap="round"/>
<use href="#mc" x="669.7" y="172.9"/>
<use href="#mc" x="669.7" y="201.7"/>
<line x1="668.2" y1="197.7" x2="671.2" y2="197.7" stroke="#fff" stroke-width="0.8" opacity="0.6"/>
<rect x="666.9" y="102.1" width="5.7" height="10.8" fill="url(#hb)" stroke="#4757a2" stroke-width="1.25"/>
<line x1="666.9" y1="108" x2="672.6" y2="108" stroke="#4757a2" stroke-width="1"/>
<use href="#st" x="669.7" y="107.5"/>
<line x1="678.9" y1="96.4" x2="678.9" y2="147.3" stroke="#a7372b" stroke-width="1.5"/>
<rect x="675" y="83.8" width="7.9" height="15.6" fill="#a7372b"/>
<use href="#ms" x="678.9" y="84.9"/>
<rect x="675" y="140.8" width="7.9" height="14.1" fill="#a7372b"/>
<rect x="675" y="171.7" width="7.9" height="31.2" fill="#a7372b"/>
<use href="#ms" x="678.9" y="172.9"/>
<use href="#ms" x="678.9" y="201.7"/>
<line x1="677.4" y1="178.9" x2="680.4" y2="178.9" stroke="#fff" stroke-width="0.8" opacity="0.6"/>
<rect x="676.1" y="115.6" width="5.7" height="10.8" fill="url(#hr)" stroke="#a7372b" stroke-width="1.25"/>
<line x1="676.1" y1="121.5" x2="681.8" y2="121.5" stroke="#a7372b" stroke-width="1"/>
<use href="#st" x="678.9" y="121"/>
<line x1="688.1" y1="89.6" x2="688.1" y2="143.8" stroke="#086c61" stroke-width="1.5"/>
<path d="M687.4 73.7h1.4L691.8 81.3V92.6H684.5V81.3Z" fill="#086c61"/>
<path d="M684.4 81.9V92.6M691.8 82.7V92.6" stroke="#086c61" stroke-width="0.9" stroke-dasharray="3 0.6" fill="none"/>
<path d="M687.4 137.3h1.4L691.8 144.9V154.3H684.5V144.9Z" fill="#086c61"/>
<path d="M684.4 145.5V154.3M691.8 146.3V154.3" stroke="#086c61" stroke-width="0.9" stroke-dasharray="3 0.6" fill="none"/>
<path d="M687.4 168.4h1.4L691.8 176V203.2H684.5V176Z" fill="#086c61"/>
<path d="M684.4 176.6V203.2M691.8 177.4V203.2" stroke="#086c61" stroke-width="0.9" stroke-dasharray="3 0.6" fill="none"/>
<use href="#mt" x="688.1" y="201.8"/>
<line x1="686.6" y1="185.2" x2="689.6" y2="185.2" stroke="#fff" stroke-width="0.8" opacity="0.6"/>
<rect x="685.3" y="108.9" width="5.7" height="12.2" fill="url(#hg)" stroke="#086c61" stroke-width="1.25"/>
<line x1="685.3" y1="115.4" x2="691" y2="115.4" stroke="#086c61" stroke-width="1"/>
<use href="#st" x="688.1" y="115.1"/>
</g>
<g>
<line x1="71.8" y1="357.7" x2="71.8" y2="415.5" stroke="#4757a2" stroke-width="1.5"/>
<line x1="70.2" y1="357.7" x2="73.4" y2="357.7" stroke="#4757a2" stroke-width="1.3"/>
<line x1="70.2" y1="415.5" x2="73.4" y2="415.5" stroke="#4757a2" stroke-width="1.3"/>
<use href="#mc" x="71.8" y="432.5"/>
<use href="#mc" x="71.8" y="434.5"/>
<use href="#mc" x="71.8" y="438.1"/>
<use href="#mc" x="71.8" y="439.9"/>
<use href="#mc" x="71.8" y="441.4"/>
<use href="#mc" x="71.8" y="445.6"/>
<use href="#mc" x="71.8" y="447.6"/>
<use href="#mc" x="71.8" y="449.3"/>
<use href="#mc" x="71.8" y="452.7"/>
<use href="#mc" x="71.8" y="454.3"/>
<use href="#mc" x="71.8" y="456.3"/>
<use href="#mc" x="71.8" y="459.9"/>
<use href="#mc" x="71.8" y="461.7"/>
<use href="#mc" x="71.8" y="463.2"/>
<use href="#mc" x="71.8" y="467.4"/>
<use href="#mc" x="71.8" y="469.4"/>
<use href="#mc" x="71.8" y="471.3"/>
<rect x="69" y="379" width="5.7" height="15.7" fill="url(#hb)" stroke="#4757a2" stroke-width="1.25"/>
<line x1="69" y1="387.4" x2="74.6" y2="387.4" stroke="#4757a2" stroke-width="1"/>
<use href="#st" x="71.8" y="387.1"/>
<line x1="81" y1="388" x2="81" y2="449.4" stroke="#a7372b" stroke-width="1.5"/>
<line x1="79.4" y1="388" x2="82.6" y2="388" stroke="#a7372b" stroke-width="1.3"/>
<rect x="77" y="445.7" width="7.9" height="27.4" fill="#a7372b"/>
<use href="#ms" x="81" y="446.8"/>
<use href="#ms" x="81" y="471.9"/>
<rect x="78.2" y="409.6" width="5.7" height="14.3" fill="url(#hr)" stroke="#a7372b" stroke-width="1.25"/>
<line x1="78.2" y1="417.3" x2="83.8" y2="417.3" stroke="#a7372b" stroke-width="1"/>
<use href="#st" x="81" y="417.2"/>
<line x1="90.2" y1="372.5" x2="90.2" y2="437.7" stroke="#086c61" stroke-width="1.5"/>
<line x1="88.6" y1="372.5" x2="91.8" y2="372.5" stroke="#086c61" stroke-width="1.3"/>
<path d="M89.5 431.2h1.4L93.9 438.9V473.4H86.5V438.9Z" fill="#086c61"/>
<path d="M86.5 439.4V473.4M93.9 440.2V473.4" stroke="#086c61" stroke-width="0.9" stroke-dasharray="3 0.6" fill="none"/>
<use href="#mt" x="90.2" y="472"/>
<line x1="88.7" y1="441.2" x2="91.7" y2="441.2" stroke="#fff" stroke-width="0.8" opacity="0.6"/>
<line x1="88.7" y1="465.9" x2="91.7" y2="465.9" stroke="#fff" stroke-width="0.8" opacity="0.6"/>
<rect x="87.4" y="393.9" width="5.7" height="15.7" fill="url(#hg)" stroke="#086c61" stroke-width="1.25"/>
<line x1="87.4" y1="402.3" x2="93" y2="402.3" stroke="#086c61" stroke-width="1"/>
<use href="#st" x="90.2" y="402.3"/>
<line x1="111.6" y1="367.7" x2="111.6" y2="429.6" stroke="#4757a2" stroke-width="1.5"/>
<line x1="110" y1="367.7" x2="113.2" y2="367.7" stroke="#4757a2" stroke-width="1.3"/>
<line x1="111.6" y1="429.8" x2="111.6" y2="470.6" stroke="#4757a2" stroke-width="7.9" stroke-linecap="round"/>
<use href="#mc" x="111.6" y="427.1"/>
<use href="#mc" x="111.6" y="473.3"/>
<line x1="110.1" y1="468.2" x2="113.1" y2="468.2" stroke="#fff" stroke-width="0.8" opacity="0.6"/>
<rect x="108.8" y="386.6" width="5.7" height="14.9" fill="url(#hb)" stroke="#4757a2" stroke-width="1.25"/>
<line x1="108.8" y1="394.5" x2="114.4" y2="394.5" stroke="#4757a2" stroke-width="1"/>
<use href="#st" x="111.6" y="394.7"/>
<line x1="120.8" y1="397.4" x2="120.8" y2="450.4" stroke="#a7372b" stroke-width="1.5"/>
<rect x="116.8" y="446.7" width="7.9" height="28.2" fill="#a7372b"/>
<use href="#ms" x="120.8" y="447.9"/>
<use href="#ms" x="120.8" y="473.8"/>
<line x1="119.3" y1="452.9" x2="122.3" y2="452.9" stroke="#fff" stroke-width="0.8" opacity="0.6"/>
<use href="#ms" x="120.8" y="396.9"/>
<rect x="118" y="415.8" width="5.7" height="13.5" fill="url(#hr)" stroke="#a7372b" stroke-width="1.25"/>
<line x1="118" y1="423.1" x2="123.6" y2="423.1" stroke="#a7372b" stroke-width="1"/>
<use href="#st" x="120.8" y="421.8"/>
<line x1="130" y1="382.5" x2="130" y2="439.6" stroke="#086c61" stroke-width="1.5"/>
<line x1="128.4" y1="382.5" x2="131.6" y2="382.5" stroke="#086c61" stroke-width="1.3"/>
<path d="M129.3 433.1h1.4L133.7 440.8V474.7H126.3V440.8Z" fill="#086c61"/>
<path d="M126.3 441.3V474.7M133.7 442.1V474.7" stroke="#086c61" stroke-width="0.9" stroke-dasharray="3 0.6" fill="none"/>
<use href="#mt" x="130" y="473.3"/>
<line x1="128.5" y1="453" x2="131.5" y2="453" stroke="#fff" stroke-width="0.8" opacity="0.6"/>
<rect x="127.2" y="401.5" width="5.7" height="14.9" fill="url(#hg)" stroke="#086c61" stroke-width="1.25"/>
<line x1="127.2" y1="409.4" x2="132.8" y2="409.4" stroke="#086c61" stroke-width="1"/>
<use href="#st" x="130" y="409.6"/>
<line x1="151.4" y1="367.9" x2="151.4" y2="430.4" stroke="#4757a2" stroke-width="1.5"/>
<line x1="149.8" y1="367.9" x2="153" y2="367.9" stroke="#4757a2" stroke-width="1.3"/>
<line x1="151.4" y1="430.6" x2="151.4" y2="470.6" stroke="#4757a2" stroke-width="7.9" stroke-linecap="round"/>
<use href="#mc" x="151.4" y="427.9"/>
<use href="#mc" x="151.4" y="473.3"/>
<line x1="149.9" y1="436.9" x2="152.9" y2="436.9" stroke="#fff" stroke-width="0.8" opacity="0.6"/>
<rect x="148.6" y="387.4" width="5.7" height="15.4" fill="url(#hb)" stroke="#4757a2" stroke-width="1.25"/>
<line x1="148.6" y1="395.6" x2="154.2" y2="395.6" stroke="#4757a2" stroke-width="1"/>
<use href="#st" x="151.4" y="395.5"/>
<line x1="160.6" y1="402.3" x2="160.6" y2="452.6" stroke="#a7372b" stroke-width="1.5"/>
<rect x="156.7" y="448.9" width="7.9" height="26" fill="#a7372b"/>
<use href="#ms" x="160.6" y="450.1"/>
<use href="#ms" x="160.6" y="473.8"/>
<line x1="159.1" y1="460.4" x2="162.1" y2="460.4" stroke="#fff" stroke-width="0.8" opacity="0.6"/>
<line x1="159.1" y1="466.8" x2="162.1" y2="466.8" stroke="#fff" stroke-width="0.8" opacity="0.6"/>
<use href="#ms" x="160.6" y="393.3"/>
<use href="#ms" x="160.6" y="398.8"/>
<rect x="157.8" y="417.7" width="5.7" height="12.2" fill="url(#hr)" stroke="#a7372b" stroke-width="1.25"/>
<line x1="157.8" y1="424.3" x2="163.4" y2="424.3" stroke="#a7372b" stroke-width="1"/>
<use href="#st" x="160.6" y="423.7"/>
<line x1="169.8" y1="382.5" x2="169.8" y2="439.9" stroke="#086c61" stroke-width="1.5"/>
<line x1="168.2" y1="382.5" x2="171.4" y2="382.5" stroke="#086c61" stroke-width="1.3"/>
<path d="M169.1 433.4h1.4L173.4 441.1V475.3H166.1V441.1Z" fill="#086c61"/>
<path d="M166.1 441.6V475.3M173.5 442.4V475.3" stroke="#086c61" stroke-width="0.9" stroke-dasharray="3 0.6" fill="none"/>
<use href="#mt" x="169.8" y="473.9"/>
<line x1="168.3" y1="442.4" x2="171.3" y2="442.4" stroke="#fff" stroke-width="0.8" opacity="0.6"/>
<rect x="166.9" y="402.3" width="5.7" height="14.6" fill="url(#hg)" stroke="#086c61" stroke-width="1.25"/>
<line x1="166.9" y1="410.1" x2="172.6" y2="410.1" stroke="#086c61" stroke-width="1"/>
<use href="#st" x="169.8" y="410.4"/>
<line x1="191.2" y1="368.5" x2="191.2" y2="431.8" stroke="#4757a2" stroke-width="1.5"/>
<line x1="189.6" y1="368.5" x2="192.8" y2="368.5" stroke="#4757a2" stroke-width="1.3"/>
<line x1="191.2" y1="431.9" x2="191.2" y2="471.9" stroke="#4757a2" stroke-width="7.9" stroke-linecap="round"/>
<use href="#mc" x="191.2" y="429.2"/>
<use href="#mc" x="191.2" y="474.6"/>
<line x1="189.7" y1="449.3" x2="192.7" y2="449.3" stroke="#fff" stroke-width="0.8" opacity="0.6"/>
<rect x="188.3" y="388.5" width="5.7" height="14.9" fill="url(#hb)" stroke="#4757a2" stroke-width="1.25"/>
<line x1="188.3" y1="396.4" x2="194" y2="396.4" stroke="#4757a2" stroke-width="1"/>
<use href="#st" x="191.2" y="396.9"/>
<line x1="200.4" y1="402.8" x2="200.4" y2="451.3" stroke="#a7372b" stroke-width="1.5"/>
<rect x="196.4" y="447.6" width="7.9" height="28.8" fill="#a7372b"/>
<use href="#ms" x="200.4" y="448.7"/>
<use href="#ms" x="200.4" y="475.2"/>
<line x1="198.9" y1="457.8" x2="201.9" y2="457.8" stroke="#fff" stroke-width="0.8" opacity="0.6"/>
<use href="#ms" x="200.4" y="393.9"/>
<use href="#ms" x="200.4" y="399.4"/>
<rect x="197.5" y="417.7" width="5.7" height="12.7" fill="url(#hr)" stroke="#a7372b" stroke-width="1.25"/>
<line x1="197.5" y1="424.6" x2="203.2" y2="424.6" stroke="#a7372b" stroke-width="1"/>
<use href="#st" x="200.4" y="423.9"/>
<line x1="209.6" y1="383.4" x2="209.6" y2="441.3" stroke="#086c61" stroke-width="1.5"/>
<line x1="208" y1="383.4" x2="211.2" y2="383.4" stroke="#086c61" stroke-width="1.3"/>
<path d="M208.9 434.8h1.4L213.2 442.4V476.1H205.9V442.4Z" fill="#086c61"/>
<path d="M205.9 443V476.1M213.3 443.8V476.1" stroke="#086c61" stroke-width="0.9" stroke-dasharray="3 0.6" fill="none"/>
<use href="#mt" x="209.6" y="474.7"/>
<line x1="208.1" y1="469.6" x2="211.1" y2="469.6" stroke="#fff" stroke-width="0.8" opacity="0.6"/>
<rect x="206.7" y="403.4" width="5.7" height="14.3" fill="url(#hg)" stroke="#086c61" stroke-width="1.25"/>
<line x1="206.7" y1="411" x2="212.4" y2="411" stroke="#086c61" stroke-width="1"/>
<use href="#st" x="209.6" y="410.9"/>
<line x1="231" y1="367.7" x2="231" y2="439.1" stroke="#4757a2" stroke-width="1.5"/>
<line x1="229.4" y1="367.7" x2="232.6" y2="367.7" stroke="#4757a2" stroke-width="1.3"/>
<line x1="231" y1="439.2" x2="231" y2="473.3" stroke="#4757a2" stroke-width="7.9" stroke-linecap="round"/>
<use href="#mc" x="231" y="436.5"/>
<use href="#mc" x="231" y="476"/>
<line x1="229.5" y1="444.6" x2="232.5" y2="444.6" stroke="#fff" stroke-width="0.8" opacity="0.6"/>
<line x1="229.5" y1="471.9" x2="232.5" y2="471.9" stroke="#fff" stroke-width="0.8" opacity="0.6"/>
<rect x="228.2" y="392" width="5.7" height="14.9" fill="url(#hb)" stroke="#4757a2" stroke-width="1.25"/>
<line x1="228.2" y1="400" x2="233.8" y2="400" stroke="#4757a2" stroke-width="1"/>
<use href="#st" x="231" y="400.1"/>
<line x1="240.2" y1="402.5" x2="240.2" y2="454.8" stroke="#a7372b" stroke-width="1.5"/>
<rect x="236.2" y="389.9" width="7.9" height="15.6" fill="#a7372b"/>
<use href="#ms" x="240.2" y="391.1"/>
<rect x="236.2" y="451.1" width="7.9" height="26.9" fill="#a7372b"/>
<use href="#ms" x="240.2" y="452.2"/>
<use href="#ms" x="240.2" y="476.8"/>
<rect x="237.3" y="419.1" width="5.7" height="13.5" fill="url(#hr)" stroke="#a7372b" stroke-width="1.25"/>
<line x1="237.3" y1="426.3" x2="243" y2="426.3" stroke="#a7372b" stroke-width="1"/>
<use href="#st" x="240.2" y="425.8"/>
<line x1="249.4" y1="383.9" x2="249.4" y2="448.6" stroke="#086c61" stroke-width="1.5"/>
<path d="M248.7 442.1h1.4L253 449.7V477.4H245.7V449.7Z" fill="#086c61"/>
<path d="M245.7 450.3V477.4M253.1 451.1V477.4" stroke="#086c61" stroke-width="0.9" stroke-dasharray="3 0.6" fill="none"/>
<use href="#mt" x="249.4" y="476"/>
<line x1="247.9" y1="455.1" x2="250.9" y2="455.1" stroke="#fff" stroke-width="0.8" opacity="0.6"/>
<line x1="247.9" y1="459.1" x2="250.9" y2="459.1" stroke="#fff" stroke-width="0.8" opacity="0.6"/>
<use href="#mt" x="249.4" y="383.4"/>
<rect x="246.5" y="406.9" width="5.7" height="14.9" fill="url(#hg)" stroke="#086c61" stroke-width="1.25"/>
<line x1="246.5" y1="414.8" x2="252.2" y2="414.8" stroke="#086c61" stroke-width="1"/>
<use href="#st" x="249.4" y="415"/>
</g>
<g>
<line x1="291" y1="375.5" x2="291" y2="413.1" stroke="#4757a2" stroke-width="1.5"/>
<line x1="291" y1="363.5" x2="291" y2="374.5" stroke="#4757a2" stroke-width="7.9" stroke-linecap="round"/>
<use href="#mc" x="291" y="360.8"/>
<line x1="291" y1="456" x2="291" y2="469.2" stroke="#4757a2" stroke-width="7.9" stroke-linecap="round"/>
<use href="#mc" x="291" y="453.3"/>
<use href="#mc" x="291" y="471.9"/>
<use href="#mc" x="291" y="439.3"/>
<use href="#mc" x="291" y="443.7"/>
<use href="#mc" x="291" y="448.1"/>
<use href="#mc" x="291" y="416.4"/>
<rect x="288.1" y="389.9" width="5.7" height="10.3" fill="url(#hb)" stroke="#4757a2" stroke-width="1.25"/>
<line x1="288.1" y1="395.5" x2="293.9" y2="395.5" stroke="#4757a2" stroke-width="1"/>
<use href="#st" x="291" y="395.3"/>
<line x1="300.2" y1="406.6" x2="300.2" y2="448.6" stroke="#a7372b" stroke-width="1.5"/>
<rect x="296.2" y="389.4" width="7.9" height="20.2" fill="#a7372b"/>
<use href="#ms" x="300.2" y="390.6"/>
<rect x="296.2" y="444.9" width="7.9" height="28.8" fill="#a7372b"/>
<use href="#ms" x="300.2" y="446"/>
<use href="#ms" x="300.2" y="472.5"/>
<rect x="297.3" y="419.9" width="5.7" height="10" fill="url(#hr)" stroke="#a7372b" stroke-width="1.25"/>
<line x1="297.3" y1="425.4" x2="303.1" y2="425.4" stroke="#a7372b" stroke-width="1"/>
<use href="#st" x="300.2" y="425"/>
<line x1="309.4" y1="391.7" x2="309.4" y2="427.7" stroke="#086c61" stroke-width="1.5"/>
<line x1="307.8" y1="427.7" x2="311" y2="427.7" stroke="#086c61" stroke-width="1.3"/>
<path d="M308.7 371.7h1.4L313 379.4V394.7H305.8V379.4Z" fill="#086c61"/>
<path d="M305.7 379.9V394.7M313.1 380.7V394.7" stroke="#086c61" stroke-width="0.9" stroke-dasharray="3 0.6" fill="none"/>
<path d="M308.7 443.4h1.4L313 451.1V473.4H305.8V451.1Z" fill="#086c61"/>
<path d="M305.7 451.6V473.4M313.1 452.4V473.4" stroke="#086c61" stroke-width="0.9" stroke-dasharray="3 0.6" fill="none"/>
<use href="#mt" x="309.4" y="472"/>
<line x1="307.9" y1="453.4" x2="310.9" y2="453.4" stroke="#fff" stroke-width="0.8" opacity="0.6"/>
<line x1="307.9" y1="465.9" x2="310.9" y2="465.9" stroke="#fff" stroke-width="0.8" opacity="0.6"/>
<use href="#mt" x="309.4" y="439.3"/>
<use href="#mt" x="309.4" y="442.1"/>
<rect x="306.5" y="405.5" width="5.7" height="10.3" fill="url(#hg)" stroke="#086c61" stroke-width="1.25"/>
<line x1="306.5" y1="411.2" x2="312.2" y2="411.2" stroke="#086c61" stroke-width="1"/>
<use href="#st" x="309.4" y="410.4"/>
<line x1="330.8" y1="385" x2="330.8" y2="425.6" stroke="#4757a2" stroke-width="1.5"/>
<line x1="330.8" y1="373" x2="330.8" y2="384" stroke="#4757a2" stroke-width="7.9" stroke-linecap="round"/>
<use href="#mc" x="330.8" y="370.3"/>
<line x1="330.8" y1="425.7" x2="330.8" y2="435.1" stroke="#4757a2" stroke-width="7.9" stroke-linecap="round"/>
<use href="#mc" x="330.8" y="423"/>
<use href="#mc" x="330.8" y="437.8"/>
<line x1="330.8" y1="460.3" x2="330.8" y2="471.9" stroke="#4757a2" stroke-width="7.9" stroke-linecap="round"/>
<use href="#mc" x="330.8" y="457.6"/>
<use href="#mc" x="330.8" y="474.6"/>
<use href="#mc" x="330.8" y="444.7"/>
<use href="#mc" x="330.8" y="448.3"/>
<use href="#mc" x="330.8" y="451.9"/>
<rect x="327.9" y="398" width="5.7" height="8.9" fill="url(#hb)" stroke="#4757a2" stroke-width="1.25"/>
<line x1="327.9" y1="402.9" x2="333.7" y2="402.9" stroke="#4757a2" stroke-width="1"/>
<use href="#st" x="330.8" y="402.8"/>
<line x1="340" y1="417.4" x2="340" y2="448.6" stroke="#a7372b" stroke-width="1.5"/>
<rect x="336.1" y="392.1" width="7.9" height="28.3" fill="#a7372b"/>
<use href="#ms" x="340" y="393.3"/>
<rect x="336.1" y="444.9" width="7.9" height="31.5" fill="#a7372b"/>
<use href="#ms" x="340" y="446"/>
<use href="#ms" x="340" y="475.2"/>
<line x1="338.5" y1="451.1" x2="341.5" y2="451.1" stroke="#fff" stroke-width="0.8" opacity="0.6"/>
<rect x="337.1" y="427.2" width="5.7" height="8.1" fill="url(#hr)" stroke="#a7372b" stroke-width="1.25"/>
<line x1="337.1" y1="431.7" x2="342.9" y2="431.7" stroke="#a7372b" stroke-width="1"/>
<use href="#st" x="340" y="431.2"/>
<line x1="349.2" y1="399.8" x2="349.2" y2="436.9" stroke="#086c61" stroke-width="1.5"/>
<path d="M348.5 381.2h1.4L352.8 388.9V402.8H345.6V388.9Z" fill="#086c61"/>
<path d="M345.5 389.4V402.8M352.9 390.2V402.8" stroke="#086c61" stroke-width="0.9" stroke-dasharray="3 0.6" fill="none"/>
<path d="M348.5 430.4h1.4L352.8 438.1V476.1H345.6V438.1Z" fill="#086c61"/>
<path d="M345.5 438.6V476.1M352.9 439.4V476.1" stroke="#086c61" stroke-width="0.9" stroke-dasharray="3 0.6" fill="none"/>
<use href="#mt" x="349.2" y="474.7"/>
<line x1="347.7" y1="452.1" x2="350.7" y2="452.1" stroke="#fff" stroke-width="0.8" opacity="0.6"/>
<rect x="346.3" y="412.3" width="5.7" height="9.5" fill="url(#hg)" stroke="#086c61" stroke-width="1.25"/>
<line x1="346.3" y1="417.5" x2="352.1" y2="417.5" stroke="#086c61" stroke-width="1"/>
<use href="#st" x="349.2" y="416.9"/>
<line x1="370.6" y1="386.3" x2="370.6" y2="425.6" stroke="#4757a2" stroke-width="1.5"/>
<line x1="370.6" y1="373" x2="370.6" y2="385.4" stroke="#4757a2" stroke-width="7.9" stroke-linecap="round"/>
<use href="#mc" x="370.6" y="370.3"/>
<line x1="370.6" y1="425.7" x2="370.6" y2="434.6" stroke="#4757a2" stroke-width="7.9" stroke-linecap="round"/>
<use href="#mc" x="370.6" y="423"/>
<use href="#mc" x="370.6" y="437.3"/>
<line x1="370.6" y1="451.4" x2="370.6" y2="473.3" stroke="#4757a2" stroke-width="7.9" stroke-linecap="round"/>
<use href="#mc" x="370.6" y="448.7"/>
<use href="#mc" x="370.6" y="476"/>
<rect x="367.7" y="399.6" width="5.7" height="8.7" fill="url(#hb)" stroke="#4757a2" stroke-width="1.25"/>
<line x1="367.7" y1="404.4" x2="373.4" y2="404.4" stroke="#4757a2" stroke-width="1"/>
<use href="#st" x="370.6" y="404.2"/>
<line x1="379.8" y1="418.5" x2="379.8" y2="449.9" stroke="#a7372b" stroke-width="1.5"/>
<rect x="375.8" y="394.8" width="7.9" height="26.7" fill="#a7372b"/>
<use href="#ms" x="379.8" y="396"/>
<rect x="375.8" y="446.2" width="7.9" height="31.7" fill="#a7372b"/>
<use href="#ms" x="379.8" y="447.4"/>
<use href="#ms" x="379.8" y="476.8"/>
<line x1="378.3" y1="460.2" x2="381.3" y2="460.2" stroke="#fff" stroke-width="0.8" opacity="0.6"/>
<line x1="378.3" y1="469.7" x2="381.3" y2="469.7" stroke="#fff" stroke-width="0.8" opacity="0.6"/>
<rect x="376.9" y="427.7" width="5.7" height="8.9" fill="url(#hr)" stroke="#a7372b" stroke-width="1.25"/>
<line x1="376.9" y1="432.7" x2="382.6" y2="432.7" stroke="#a7372b" stroke-width="1"/>
<use href="#st" x="379.8" y="432"/>
<line x1="389" y1="402.5" x2="389" y2="438" stroke="#086c61" stroke-width="1.5"/>
<path d="M388.3 381.2h1.4L392.6 388.9V405.5H385.3V388.9Z" fill="#086c61"/>
<path d="M385.3 389.4V405.5M392.7 390.2V405.5" stroke="#086c61" stroke-width="0.9" stroke-dasharray="3 0.6" fill="none"/>
<path d="M388.3 431.5h1.4L392.6 439.2V478.2H385.3V439.2Z" fill="#086c61"/>
<path d="M385.3 439.7V478.2M392.7 440.5V478.2" stroke="#086c61" stroke-width="0.9" stroke-dasharray="3 0.6" fill="none"/>
<use href="#mt" x="389" y="476.8"/>
<line x1="387.5" y1="440.5" x2="390.5" y2="440.5" stroke="#fff" stroke-width="0.8" opacity="0.6"/>
<rect x="386.1" y="413.7" width="5.7" height="8.9" fill="url(#hg)" stroke="#086c61" stroke-width="1.25"/>
<line x1="386.1" y1="418.6" x2="391.8" y2="418.6" stroke="#086c61" stroke-width="1"/>
<use href="#st" x="389" y="418.3"/>
<line x1="410.4" y1="386.3" x2="410.4" y2="426.9" stroke="#4757a2" stroke-width="1.5"/>
<line x1="410.4" y1="377" x2="410.4" y2="385.4" stroke="#4757a2" stroke-width="7.9" stroke-linecap="round"/>
<use href="#mc" x="410.4" y="374.3"/>
<line x1="410.4" y1="427.1" x2="410.4" y2="441.6" stroke="#4757a2" stroke-width="7.9" stroke-linecap="round"/>
<use href="#mc" x="410.4" y="424.4"/>
<use href="#mc" x="410.4" y="444.3"/>
<line x1="410.4" y1="456.8" x2="410.4" y2="474.1" stroke="#4757a2" stroke-width="7.9" stroke-linecap="round"/>
<use href="#mc" x="410.4" y="454.1"/>
<use href="#mc" x="410.4" y="476.8"/>
<line x1="408.9" y1="460.2" x2="411.9" y2="460.2" stroke="#fff" stroke-width="0.8" opacity="0.6"/>
<line x1="408.9" y1="463.9" x2="411.9" y2="463.9" stroke="#fff" stroke-width="0.8" opacity="0.6"/>
<rect x="407.5" y="400.1" width="5.7" height="9.5" fill="url(#hb)" stroke="#4757a2" stroke-width="1.25"/>
<line x1="407.5" y1="405.4" x2="413.2" y2="405.4" stroke="#4757a2" stroke-width="1"/>
<use href="#st" x="410.4" y="405"/>
<line x1="419.6" y1="417.4" x2="419.6" y2="450.4" stroke="#a7372b" stroke-width="1.5"/>
<rect x="415.6" y="395.6" width="7.9" height="24.8" fill="#a7372b"/>
<use href="#ms" x="419.6" y="396.8"/>
<rect x="415.6" y="446.7" width="7.9" height="31.2" fill="#a7372b"/>
<use href="#ms" x="419.6" y="447.9"/>
<use href="#ms" x="419.6" y="476.8"/>
<line x1="418.1" y1="456.9" x2="421.1" y2="456.9" stroke="#fff" stroke-width="0.8" opacity="0.6"/>
<rect x="416.7" y="428" width="5.7" height="8.7" fill="url(#hr)" stroke="#a7372b" stroke-width="1.25"/>
<line x1="416.7" y1="432.8" x2="422.4" y2="432.8" stroke="#a7372b" stroke-width="1"/>
<use href="#st" x="419.6" y="432"/>
<line x1="428.8" y1="402.5" x2="428.8" y2="439.6" stroke="#086c61" stroke-width="1.5"/>
<path d="M428.1 385.3h1.4L432.4 392.9V405.5H425.1V392.9Z" fill="#086c61"/>
<path d="M425.1 393.5V405.5M432.5 394.3V405.5" stroke="#086c61" stroke-width="0.9" stroke-dasharray="3 0.6" fill="none"/>
<path d="M428.1 433.1h1.4L432.4 440.8V478.2H425.1V440.8Z" fill="#086c61"/>
<path d="M425.1 441.3V478.2M432.5 442.1V478.2" stroke="#086c61" stroke-width="0.9" stroke-dasharray="3 0.6" fill="none"/>
<use href="#mt" x="428.8" y="476.8"/>
<line x1="427.3" y1="471.7" x2="430.3" y2="471.7" stroke="#fff" stroke-width="0.8" opacity="0.6"/>
<rect x="425.9" y="414.5" width="5.7" height="9.5" fill="url(#hg)" stroke="#086c61" stroke-width="1.25"/>
<line x1="425.9" y1="419.7" x2="431.6" y2="419.7" stroke="#086c61" stroke-width="1"/>
<use href="#st" x="428.8" y="419.1"/>
<line x1="450.2" y1="390.4" x2="450.2" y2="431" stroke="#4757a2" stroke-width="1.5"/>
<line x1="450.2" y1="376.5" x2="450.2" y2="389.4" stroke="#4757a2" stroke-width="7.9" stroke-linecap="round"/>
<use href="#mc" x="450.2" y="373.8"/>
<line x1="450.2" y1="431.1" x2="450.2" y2="444.9" stroke="#4757a2" stroke-width="7.9" stroke-linecap="round"/>
<use href="#mc" x="450.2" y="428.4"/>
<use href="#mc" x="450.2" y="447.6"/>
<line x1="450.2" y1="464.9" x2="450.2" y2="477.3" stroke="#4757a2" stroke-width="7.9" stroke-linecap="round"/>
<use href="#mc" x="450.2" y="462.2"/>
<use href="#mc" x="450.2" y="480"/>
<rect x="447.3" y="402.8" width="5.7" height="9.5" fill="url(#hb)" stroke="#4757a2" stroke-width="1.25"/>
<line x1="447.3" y1="408.1" x2="453.1" y2="408.1" stroke="#4757a2" stroke-width="1"/>
<use href="#st" x="450.2" y="407.4"/>
<line x1="459.4" y1="414.7" x2="459.4" y2="454" stroke="#a7372b" stroke-width="1.5"/>
<rect x="455.4" y="394.8" width="7.9" height="22.9" fill="#a7372b"/>
<use href="#ms" x="459.4" y="396"/>
<rect x="455.4" y="450.3" width="7.9" height="30.9" fill="#a7372b"/>
<use href="#ms" x="459.4" y="451.4"/>
<use href="#ms" x="459.4" y="480"/>
<rect x="456.5" y="427.2" width="5.7" height="9.5" fill="url(#hr)" stroke="#a7372b" stroke-width="1.25"/>
<line x1="456.5" y1="432.4" x2="462.2" y2="432.4" stroke="#a7372b" stroke-width="1"/>
<use href="#st" x="459.4" y="431.8"/>
<line x1="468.6" y1="403.9" x2="468.6" y2="441.8" stroke="#086c61" stroke-width="1.5"/>
<path d="M467.9 384.4h1.4L472.2 392.1V406.9H464.9V392.1Z" fill="#086c61"/>
<path d="M464.9 392.6V406.9M472.3 393.4V406.9" stroke="#086c61" stroke-width="0.9" stroke-dasharray="3 0.6" fill="none"/>
<path d="M467.9 435.3h1.4L472.2 442.9V481.5H464.9V442.9Z" fill="#086c61"/>
<path d="M464.9 443.5V481.5M472.3 444.3V481.5" stroke="#086c61" stroke-width="0.9" stroke-dasharray="3 0.6" fill="none"/>
<use href="#mt" x="468.6" y="480.1"/>
<line x1="467.1" y1="448.3" x2="470.1" y2="448.3" stroke="#fff" stroke-width="0.8" opacity="0.6"/>
<line x1="467.1" y1="457.2" x2="470.1" y2="457.2" stroke="#fff" stroke-width="0.8" opacity="0.6"/>
<rect x="465.7" y="417.7" width="5.7" height="8.9" fill="url(#hg)" stroke="#086c61" stroke-width="1.25"/>
<line x1="465.7" y1="422.7" x2="471.4" y2="422.7" stroke="#086c61" stroke-width="1"/>
<use href="#st" x="468.6" y="421.8"/>
</g>
<g>
<line x1="510.5" y1="357.9" x2="510.5" y2="401.2" stroke="#4757a2" stroke-width="1.5"/>
<line x1="510.5" y1="354.9" x2="510.5" y2="357" stroke="#4757a2" stroke-width="7.9" stroke-linecap="round"/>
<line x1="510.5" y1="401.4" x2="510.5" y2="408.4" stroke="#4757a2" stroke-width="7.9" stroke-linecap="round"/>
<use href="#mc" x="510.5" y="398.7"/>
<use href="#mc" x="510.5" y="411.1"/>
<line x1="510.5" y1="432.5" x2="510.5" y2="448.9" stroke="#4757a2" stroke-width="7.9" stroke-linecap="round"/>
<use href="#mc" x="510.5" y="429.8"/>
<use href="#mc" x="510.5" y="451.6"/>
<use href="#mc" x="510.5" y="463.6"/>
<use href="#mc" x="510.5" y="466.1"/>
<use href="#mc" x="510.5" y="468.6"/>
<rect x="507.7" y="373.6" width="5.7" height="9.7" fill="url(#hb)" stroke="#4757a2" stroke-width="1.25"/>
<line x1="507.7" y1="379" x2="513.4" y2="379" stroke="#4757a2" stroke-width="1"/>
<use href="#st" x="510.5" y="378.5"/>
<line x1="519.7" y1="389" x2="519.7" y2="431" stroke="#a7372b" stroke-width="1.5"/>
<rect x="515.8" y="380.4" width="7.9" height="11.6" fill="#a7372b"/>
<rect x="515.8" y="427.3" width="7.9" height="25.5" fill="#a7372b"/>
<use href="#ms" x="519.7" y="428.4"/>
<use href="#ms" x="519.7" y="451.6"/>
<use href="#ms" x="519.7" y="463.6"/>
<use href="#ms" x="519.7" y="466.1"/>
<use href="#ms" x="519.7" y="468.6"/>
<rect x="516.9" y="403.4" width="5.7" height="10.3" fill="url(#hr)" stroke="#a7372b" stroke-width="1.25"/>
<line x1="516.9" y1="409" x2="522.6" y2="409" stroke="#a7372b" stroke-width="1"/>
<use href="#st" x="519.7" y="408.2"/>
<line x1="528.9" y1="374.1" x2="528.9" y2="416.1" stroke="#086c61" stroke-width="1.5"/>
<path d="M528.2 365h1.4L532.6 372.6V377.1H525.3V372.6Z" fill="#086c61"/>
<path d="M525.2 373.2V377.1M532.6 374V377.1" stroke="#086c61" stroke-width="0.9" stroke-dasharray="3 0.6" fill="none"/>
<path d="M528.2 409.6h1.4L532.6 417.3V453.1H525.3V417.3Z" fill="#086c61"/>
<path d="M525.2 417.8V453.1M532.6 418.6V453.1" stroke="#086c61" stroke-width="0.9" stroke-dasharray="3 0.6" fill="none"/>
<use href="#mt" x="528.9" y="451.7"/>
<line x1="527.4" y1="419.6" x2="530.4" y2="419.6" stroke="#fff" stroke-width="0.8" opacity="0.6"/>
<line x1="527.4" y1="445.6" x2="530.4" y2="445.6" stroke="#fff" stroke-width="0.8" opacity="0.6"/>
<use href="#mt" x="528.9" y="463.6"/>
<use href="#mt" x="528.9" y="466.1"/>
<use href="#mt" x="528.9" y="468.6"/>
<rect x="526.1" y="388.8" width="5.7" height="10" fill="url(#hg)" stroke="#086c61" stroke-width="1.25"/>
<line x1="526.1" y1="394.3" x2="531.8" y2="394.3" stroke="#086c61" stroke-width="1"/>
<use href="#st" x="528.9" y="393.9"/>
<line x1="550.3" y1="366.8" x2="550.3" y2="408" stroke="#4757a2" stroke-width="1.5"/>
<line x1="550.3" y1="408.1" x2="550.3" y2="425.4" stroke="#4757a2" stroke-width="7.9" stroke-linecap="round"/>
<use href="#mc" x="550.3" y="405.4"/>
<use href="#mc" x="550.3" y="428.1"/>
<line x1="548.8" y1="423" x2="551.8" y2="423" stroke="#fff" stroke-width="0.8" opacity="0.6"/>
<line x1="550.3" y1="443" x2="550.3" y2="457.9" stroke="#4757a2" stroke-width="7.9" stroke-linecap="round"/>
<use href="#mc" x="550.3" y="440.3"/>
<use href="#mc" x="550.3" y="460.6"/>
<use href="#mc" x="550.3" y="436.9"/>
<use href="#mc" x="550.3" y="467.3"/>
<use href="#mc" x="550.3" y="366.3"/>
<rect x="547.4" y="380.7" width="5.7" height="10" fill="url(#hb)" stroke="#4757a2" stroke-width="1.25"/>
<line x1="547.4" y1="386.2" x2="553.1" y2="386.2" stroke="#4757a2" stroke-width="1"/>
<use href="#st" x="550.3" y="385.8"/>
<line x1="559.5" y1="397.1" x2="559.5" y2="437.7" stroke="#a7372b" stroke-width="1.5"/>
<rect x="555.5" y="434" width="7.9" height="29.3" fill="#a7372b"/>
<use href="#ms" x="559.5" y="435.2"/>
<use href="#ms" x="559.5" y="462.2"/>
<line x1="558" y1="440.2" x2="561" y2="440.2" stroke="#fff" stroke-width="0.8" opacity="0.6"/>
<use href="#ms" x="559.5" y="467.9"/>
<use href="#ms" x="559.5" y="396.6"/>
<rect x="556.6" y="410.9" width="5.7" height="9.5" fill="url(#hr)" stroke="#a7372b" stroke-width="1.25"/>
<line x1="556.6" y1="416.2" x2="562.4" y2="416.2" stroke="#a7372b" stroke-width="1"/>
<use href="#st" x="559.5" y="415.5"/>
<line x1="568.7" y1="381.7" x2="568.7" y2="422.9" stroke="#086c61" stroke-width="1.5"/>
<path d="M568 416.4h1.4L572.4 424V462H565.1V424Z" fill="#086c61"/>
<path d="M565 424.6V462M572.4 425.4V462" stroke="#086c61" stroke-width="0.9" stroke-dasharray="3 0.6" fill="none"/>
<use href="#mt" x="568.7" y="460.6"/>
<line x1="567.2" y1="438" x2="570.2" y2="438" stroke="#fff" stroke-width="0.8" opacity="0.6"/>
<use href="#mt" x="568.7" y="466.3"/>
<use href="#mt" x="568.7" y="467.8"/>
<use href="#mt" x="568.7" y="381.2"/>
<rect x="565.9" y="396.1" width="5.7" height="10" fill="url(#hg)" stroke="#086c61" stroke-width="1.25"/>
<line x1="565.9" y1="401.6" x2="571.6" y2="401.6" stroke="#086c61" stroke-width="1"/>
<use href="#st" x="568.7" y="400.9"/>
<line x1="590.1" y1="367.4" x2="590.1" y2="409.3" stroke="#4757a2" stroke-width="1.5"/>
<line x1="590.1" y1="409.5" x2="590.1" y2="463.5" stroke="#4757a2" stroke-width="7.9" stroke-linecap="round"/>
<use href="#mc" x="590.1" y="406.8"/>
<use href="#mc" x="590.1" y="466.2"/>
<line x1="588.6" y1="415.8" x2="591.6" y2="415.8" stroke="#fff" stroke-width="0.8" opacity="0.6"/>
<use href="#mc" x="590.1" y="366.9"/>
<rect x="587.2" y="382.5" width="5.7" height="9.5" fill="url(#hb)" stroke="#4757a2" stroke-width="1.25"/>
<line x1="587.2" y1="387.8" x2="593" y2="387.8" stroke="#4757a2" stroke-width="1"/>
<use href="#st" x="590.1" y="388"/>
<line x1="599.3" y1="397.9" x2="599.3" y2="438.5" stroke="#a7372b" stroke-width="1.5"/>
<rect x="595.4" y="434.8" width="7.9" height="32.3" fill="#a7372b"/>
<use href="#ms" x="599.3" y="436"/>
<use href="#ms" x="599.3" y="466"/>
<line x1="597.8" y1="449.1" x2="600.8" y2="449.1" stroke="#fff" stroke-width="0.8" opacity="0.6"/>
<line x1="597.8" y1="458.9" x2="600.8" y2="458.9" stroke="#fff" stroke-width="0.8" opacity="0.6"/>
<use href="#ms" x="599.3" y="397.4"/>
<rect x="596.5" y="411.5" width="5.7" height="9.7" fill="url(#hr)" stroke="#a7372b" stroke-width="1.25"/>
<line x1="596.5" y1="416.9" x2="602.2" y2="416.9" stroke="#a7372b" stroke-width="1"/>
<use href="#st" x="599.3" y="416.4"/>
<line x1="608.5" y1="382.5" x2="608.5" y2="424.2" stroke="#086c61" stroke-width="1.5"/>
<path d="M607.8 417.7h1.4L612.2 425.4V467.4H604.9V425.4Z" fill="#086c61"/>
<path d="M604.8 425.9V467.4M612.2 426.7V467.4" stroke="#086c61" stroke-width="0.9" stroke-dasharray="3 0.6" fill="none"/>
<use href="#mt" x="608.5" y="466"/>
<line x1="607" y1="426.7" x2="610" y2="426.7" stroke="#fff" stroke-width="0.8" opacity="0.6"/>
<use href="#mt" x="608.5" y="382"/>
<rect x="605.7" y="397.2" width="5.7" height="9.7" fill="url(#hg)" stroke="#086c61" stroke-width="1.25"/>
<line x1="605.7" y1="402.5" x2="611.4" y2="402.5" stroke="#086c61" stroke-width="1"/>
<use href="#st" x="608.5" y="402.8"/>
<line x1="629.9" y1="367.6" x2="629.9" y2="411.5" stroke="#4757a2" stroke-width="1.5"/>
<line x1="629.9" y1="411.6" x2="629.9" y2="463.8" stroke="#4757a2" stroke-width="7.9" stroke-linecap="round"/>
<use href="#mc" x="629.9" y="408.9"/>
<use href="#mc" x="629.9" y="466.5"/>
<line x1="628.4" y1="434.5" x2="631.4" y2="434.5" stroke="#fff" stroke-width="0.8" opacity="0.6"/>
<use href="#mc" x="629.9" y="367.1"/>
<rect x="627" y="383.9" width="5.7" height="10" fill="url(#hb)" stroke="#4757a2" stroke-width="1.25"/>
<line x1="627" y1="389.4" x2="632.8" y2="389.4" stroke="#4757a2" stroke-width="1"/>
<use href="#st" x="629.9" y="389.3"/>
<line x1="639.1" y1="398.2" x2="639.1" y2="439.6" stroke="#a7372b" stroke-width="1.5"/>
<rect x="635.1" y="435.9" width="7.9" height="31.7" fill="#a7372b"/>
<use href="#ms" x="639.1" y="437.1"/>
<use href="#ms" x="639.1" y="466.5"/>
<line x1="637.6" y1="446.1" x2="640.6" y2="446.1" stroke="#fff" stroke-width="0.8" opacity="0.6"/>
<use href="#ms" x="639.1" y="397.7"/>
<rect x="636.2" y="413.1" width="5.7" height="9.5" fill="url(#hr)" stroke="#a7372b" stroke-width="1.25"/>
<line x1="636.2" y1="418.3" x2="642" y2="418.3" stroke="#a7372b" stroke-width="1"/>
<use href="#st" x="639.1" y="418.3"/>
<line x1="648.3" y1="382.5" x2="648.3" y2="426.9" stroke="#086c61" stroke-width="1.5"/>
<path d="M647.6 420.4h1.4L652 428.1V468H644.7V428.1Z" fill="#086c61"/>
<path d="M644.6 428.6V468M652 429.4V468" stroke="#086c61" stroke-width="0.9" stroke-dasharray="3 0.6" fill="none"/>
<use href="#mt" x="648.3" y="466.6"/>
<line x1="646.8" y1="461.5" x2="649.8" y2="461.5" stroke="#fff" stroke-width="0.8" opacity="0.6"/>
<use href="#mt" x="648.3" y="382"/>
<rect x="645.5" y="398.8" width="5.7" height="10" fill="url(#hg)" stroke="#086c61" stroke-width="1.25"/>
<line x1="645.5" y1="404.3" x2="651.2" y2="404.3" stroke="#086c61" stroke-width="1"/>
<use href="#st" x="648.3" y="404.2"/>
<line x1="669.7" y1="367.7" x2="669.7" y2="437.7" stroke="#4757a2" stroke-width="1.5"/>
<line x1="668.1" y1="367.7" x2="671.3" y2="367.7" stroke="#4757a2" stroke-width="1.3"/>
<line x1="669.7" y1="437.9" x2="669.7" y2="461.6" stroke="#4757a2" stroke-width="7.9" stroke-linecap="round"/>
<use href="#mc" x="669.7" y="435.2"/>
<use href="#mc" x="669.7" y="464.3"/>
<line x1="668.2" y1="443.2" x2="671.2" y2="443.2" stroke="#fff" stroke-width="0.8" opacity="0.6"/>
<line x1="668.2" y1="460.3" x2="671.2" y2="460.3" stroke="#fff" stroke-width="0.8" opacity="0.6"/>
<rect x="666.9" y="386.6" width="5.7" height="18.4" fill="url(#hb)" stroke="#4757a2" stroke-width="1.25"/>
<line x1="666.9" y1="396.3" x2="672.6" y2="396.3" stroke="#4757a2" stroke-width="1"/>
<use href="#st" x="669.7" y="396.1"/>
<line x1="678.9" y1="397.9" x2="678.9" y2="448" stroke="#a7372b" stroke-width="1.5"/>
<rect x="675" y="444.3" width="7.9" height="22" fill="#a7372b"/>
<use href="#ms" x="678.9" y="445.5"/>
<use href="#ms" x="678.9" y="465.2"/>
<use href="#ms" x="678.9" y="397.4"/>
<rect x="676.1" y="415" width="5.7" height="12.7" fill="url(#hr)" stroke="#a7372b" stroke-width="1.25"/>
<line x1="676.1" y1="421.9" x2="681.8" y2="421.9" stroke="#a7372b" stroke-width="1"/>
<use href="#st" x="678.9" y="421.8"/>
<line x1="688.1" y1="382.5" x2="688.1" y2="451.3" stroke="#086c61" stroke-width="1.5"/>
<line x1="686.5" y1="382.5" x2="689.7" y2="382.5" stroke="#086c61" stroke-width="1.3"/>
<path d="M687.4 444.8h1.4L691.8 452.4V469.1H684.5V452.4Z" fill="#086c61"/>
<path d="M684.4 453V469.1M691.8 453.8V469.1" stroke="#086c61" stroke-width="0.9" stroke-dasharray="3 0.6" fill="none"/>
<rect x="685.3" y="400.7" width="5.7" height="19.7" fill="url(#hg)" stroke="#086c61" stroke-width="1.25"/>
<line x1="685.3" y1="411" x2="691" y2="411" stroke="#086c61" stroke-width="1"/>
<use href="#st" x="688.1" y="410.9"/>
</g>
<g>
<line x1="71.8" y1="575.5" x2="71.8" y2="647.1" stroke="#4757a2" stroke-width="1.5"/>
<line x1="70.2" y1="575.5" x2="73.4" y2="575.5" stroke="#4757a2" stroke-width="1.3"/>
<line x1="70.2" y1="647.1" x2="73.4" y2="647.1" stroke="#4757a2" stroke-width="1.3"/>
<use href="#mc" x="71.8" y="666"/>
<use href="#mc" x="71.8" y="668"/>
<use href="#mc" x="71.8" y="671.6"/>
<use href="#mc" x="71.8" y="673.4"/>
<use href="#mc" x="71.8" y="674.9"/>
<use href="#mc" x="71.8" y="679.1"/>
<use href="#mc" x="71.8" y="681.1"/>
<use href="#mc" x="71.8" y="682.8"/>
<use href="#mc" x="71.8" y="686.2"/>
<use href="#mc" x="71.8" y="687.8"/>
<use href="#mc" x="71.8" y="689.8"/>
<use href="#mc" x="71.8" y="693.4"/>
<use href="#mc" x="71.8" y="695.2"/>
<use href="#mc" x="71.8" y="696.7"/>
<use href="#mc" x="71.8" y="700.9"/>
<use href="#mc" x="71.8" y="702.9"/>
<use href="#mc" x="71.8" y="704.6"/>
<use href="#mc" x="71.8" y="708"/>
<use href="#mc" x="71.8" y="709.6"/>
<use href="#mc" x="71.8" y="711.6"/>
<use href="#mc" x="71.8" y="715.2"/>
<use href="#mc" x="71.8" y="717"/>
<use href="#mc" x="71.8" y="718.3"/>
<rect x="69" y="600.3" width="5.7" height="22.5" fill="url(#hb)" stroke="#4757a2" stroke-width="1.25"/>
<line x1="69" y1="612.1" x2="74.6" y2="612.1" stroke="#4757a2" stroke-width="1"/>
<use href="#st" x="71.8" y="612.5"/>
<line x1="81" y1="620.9" x2="81" y2="687.4" stroke="#a7372b" stroke-width="1.5"/>
<line x1="79.4" y1="620.9" x2="82.6" y2="620.9" stroke="#a7372b" stroke-width="1.3"/>
<use href="#ms" x="81" y="684.9"/>
<use href="#ms" x="81" y="686.9"/>
<use href="#ms" x="81" y="690.5"/>
<use href="#ms" x="81" y="692.3"/>
<use href="#ms" x="81" y="693.8"/>
<use href="#ms" x="81" y="698"/>
<use href="#ms" x="81" y="700"/>
<use href="#ms" x="81" y="701.7"/>
<use href="#ms" x="81" y="705.1"/>
<use href="#ms" x="81" y="706.7"/>
<use href="#ms" x="81" y="708.7"/>
<use href="#ms" x="81" y="712.3"/>
<use href="#ms" x="81" y="714.1"/>
<use href="#ms" x="81" y="715.6"/>
<use href="#ms" x="81" y="718.9"/>
<rect x="78.2" y="641.7" width="5.7" height="17.6" fill="url(#hr)" stroke="#a7372b" stroke-width="1.25"/>
<line x1="78.2" y1="651" x2="83.8" y2="651" stroke="#a7372b" stroke-width="1"/>
<use href="#st" x="81" y="651.2"/>
<line x1="90.2" y1="597.9" x2="90.2" y2="666.9" stroke="#086c61" stroke-width="1.5"/>
<line x1="88.6" y1="597.9" x2="91.8" y2="597.9" stroke="#086c61" stroke-width="1.3"/>
<line x1="88.6" y1="666.9" x2="91.8" y2="666.9" stroke="#086c61" stroke-width="1.3"/>
<use href="#mt" x="90.2" y="674.1"/>
<use href="#mt" x="90.2" y="675.7"/>
<use href="#mt" x="90.2" y="677.7"/>
<use href="#mt" x="90.2" y="681.3"/>
<use href="#mt" x="90.2" y="683.1"/>
<use href="#mt" x="90.2" y="684.6"/>
<use href="#mt" x="90.2" y="688.8"/>
<use href="#mt" x="90.2" y="690.8"/>
<use href="#mt" x="90.2" y="692.5"/>
<use href="#mt" x="90.2" y="695.9"/>
<use href="#mt" x="90.2" y="697.5"/>
<use href="#mt" x="90.2" y="699.5"/>
<use href="#mt" x="90.2" y="703.1"/>
<use href="#mt" x="90.2" y="704.9"/>
<use href="#mt" x="90.2" y="706.4"/>
<use href="#mt" x="90.2" y="710.6"/>
<use href="#mt" x="90.2" y="712.6"/>
<use href="#mt" x="90.2" y="714.3"/>
<use href="#mt" x="90.2" y="718.9"/>
<rect x="87.4" y="622.2" width="5.7" height="18.1" fill="url(#hg)" stroke="#086c61" stroke-width="1.25"/>
<line x1="87.4" y1="631.8" x2="93" y2="631.8" stroke="#086c61" stroke-width="1"/>
<use href="#st" x="90.2" y="630.9"/>
<line x1="111.6" y1="584.9" x2="111.6" y2="669.9" stroke="#4757a2" stroke-width="1.5"/>
<line x1="110" y1="584.9" x2="113.2" y2="584.9" stroke="#4757a2" stroke-width="1.3"/>
<line x1="111.6" y1="670" x2="111.6" y2="716.8" stroke="#4757a2" stroke-width="7.9" stroke-linecap="round"/>
<use href="#mc" x="111.6" y="667.3"/>
<use href="#mc" x="111.6" y="719.5"/>
<line x1="110.1" y1="714.4" x2="113.1" y2="714.4" stroke="#fff" stroke-width="0.8" opacity="0.6"/>
<rect x="108.8" y="607.4" width="5.7" height="23.5" fill="url(#hb)" stroke="#4757a2" stroke-width="1.25"/>
<line x1="108.8" y1="619.6" x2="114.4" y2="619.6" stroke="#4757a2" stroke-width="1"/>
<use href="#st" x="111.6" y="619.5"/>
<line x1="120.8" y1="620.6" x2="120.8" y2="692" stroke="#a7372b" stroke-width="1.5"/>
<line x1="119.2" y1="620.6" x2="122.4" y2="620.6" stroke="#a7372b" stroke-width="1.3"/>
<rect x="116.8" y="688.3" width="7.9" height="33.1" fill="#a7372b"/>
<use href="#ms" x="120.8" y="689.5"/>
<use href="#ms" x="120.8" y="720.3"/>
<line x1="119.3" y1="694.5" x2="122.3" y2="694.5" stroke="#fff" stroke-width="0.8" opacity="0.6"/>
<rect x="118" y="645.8" width="5.7" height="16.8" fill="url(#hr)" stroke="#a7372b" stroke-width="1.25"/>
<line x1="118" y1="654.7" x2="123.6" y2="654.7" stroke="#a7372b" stroke-width="1"/>
<use href="#st" x="120.8" y="654.4"/>
<line x1="130" y1="607.4" x2="130" y2="675.3" stroke="#086c61" stroke-width="1.5"/>
<line x1="128.4" y1="607.4" x2="131.6" y2="607.4" stroke="#086c61" stroke-width="1.3"/>
<path d="M129.3 668.8h1.4L133.7 676.4V721.7H126.3V676.4Z" fill="#086c61"/>
<path d="M126.3 677V721.7M133.7 677.8V721.7" stroke="#086c61" stroke-width="0.9" stroke-dasharray="3 0.6" fill="none"/>
<use href="#mt" x="130" y="720.3"/>
<line x1="128.5" y1="693.7" x2="131.5" y2="693.7" stroke="#fff" stroke-width="0.8" opacity="0.6"/>
<rect x="127.2" y="628.2" width="5.7" height="17.6" fill="url(#hg)" stroke="#086c61" stroke-width="1.25"/>
<line x1="127.2" y1="637.5" x2="132.8" y2="637.5" stroke="#086c61" stroke-width="1"/>
<use href="#st" x="130" y="637.7"/>
<line x1="151.4" y1="585.5" x2="151.4" y2="670.7" stroke="#4757a2" stroke-width="1.5"/>
<line x1="149.8" y1="585.5" x2="153" y2="585.5" stroke="#4757a2" stroke-width="1.3"/>
<line x1="151.4" y1="670.8" x2="151.4" y2="716.8" stroke="#4757a2" stroke-width="7.9" stroke-linecap="round"/>
<use href="#mc" x="151.4" y="668.1"/>
<use href="#mc" x="151.4" y="719.5"/>
<line x1="149.9" y1="677.2" x2="152.9" y2="677.2" stroke="#fff" stroke-width="0.8" opacity="0.6"/>
<rect x="148.6" y="609.3" width="5.7" height="22.5" fill="url(#hb)" stroke="#4757a2" stroke-width="1.25"/>
<line x1="148.6" y1="621" x2="154.2" y2="621" stroke="#4757a2" stroke-width="1"/>
<use href="#st" x="151.4" y="620.9"/>
<line x1="160.6" y1="621.1" x2="160.6" y2="692.6" stroke="#a7372b" stroke-width="1.5"/>
<rect x="156.7" y="688.9" width="7.9" height="32.5" fill="#a7372b"/>
<use href="#ms" x="160.6" y="690"/>
<use href="#ms" x="160.6" y="720.3"/>
<line x1="159.1" y1="703.2" x2="162.1" y2="703.2" stroke="#fff" stroke-width="0.8" opacity="0.6"/>
<line x1="159.1" y1="713.2" x2="162.1" y2="713.2" stroke="#fff" stroke-width="0.8" opacity="0.6"/>
<use href="#ms" x="160.6" y="620.6"/>
<rect x="157.8" y="646.3" width="5.7" height="16.8" fill="url(#hr)" stroke="#a7372b" stroke-width="1.25"/>
<line x1="157.8" y1="655.2" x2="163.4" y2="655.2" stroke="#a7372b" stroke-width="1"/>
<use href="#st" x="160.6" y="654.7"/>
<line x1="169.8" y1="607.9" x2="169.8" y2="676.1" stroke="#086c61" stroke-width="1.5"/>
<line x1="168.2" y1="607.9" x2="171.4" y2="607.9" stroke="#086c61" stroke-width="1.3"/>
<path d="M169.1 669.6h1.4L173.4 677.2V721.4H166.1V677.2Z" fill="#086c61"/>
<path d="M166.1 677.8V721.4M173.5 678.6V721.4" stroke="#086c61" stroke-width="0.9" stroke-dasharray="3 0.6" fill="none"/>
<use href="#mt" x="169.8" y="720"/>
<line x1="168.3" y1="678.6" x2="171.3" y2="678.6" stroke="#fff" stroke-width="0.8" opacity="0.6"/>
<rect x="166.9" y="629" width="5.7" height="17.6" fill="url(#hg)" stroke="#086c61" stroke-width="1.25"/>
<line x1="166.9" y1="638.3" x2="172.6" y2="638.3" stroke="#086c61" stroke-width="1"/>
<use href="#st" x="169.8" y="638.5"/>
<line x1="191.2" y1="587.6" x2="191.2" y2="672.6" stroke="#4757a2" stroke-width="1.5"/>
<line x1="189.6" y1="587.6" x2="192.8" y2="587.6" stroke="#4757a2" stroke-width="1.3"/>
<line x1="191.2" y1="672.7" x2="191.2" y2="718.9" stroke="#4757a2" stroke-width="7.9" stroke-linecap="round"/>
<use href="#mc" x="191.2" y="670"/>
<use href="#mc" x="191.2" y="721.6"/>
<line x1="189.7" y1="692.8" x2="192.7" y2="692.8" stroke="#fff" stroke-width="0.8" opacity="0.6"/>
<rect x="188.3" y="610.1" width="5.7" height="23.5" fill="url(#hb)" stroke="#4757a2" stroke-width="1.25"/>
<line x1="188.3" y1="622.3" x2="194" y2="622.3" stroke="#4757a2" stroke-width="1"/>
<use href="#st" x="191.2" y="622.2"/>
<line x1="200.4" y1="620.6" x2="200.4" y2="692.9" stroke="#a7372b" stroke-width="1.5"/>
<rect x="196.4" y="689.2" width="7.9" height="33.6" fill="#a7372b"/>
<use href="#ms" x="200.4" y="690.3"/>
<use href="#ms" x="200.4" y="721.6"/>
<line x1="198.9" y1="699.4" x2="201.9" y2="699.4" stroke="#fff" stroke-width="0.8" opacity="0.6"/>
<use href="#ms" x="200.4" y="620.1"/>
<rect x="197.5" y="646.3" width="5.7" height="17" fill="url(#hr)" stroke="#a7372b" stroke-width="1.25"/>
<line x1="197.5" y1="655.3" x2="203.2" y2="655.3" stroke="#a7372b" stroke-width="1"/>
<use href="#st" x="200.4" y="654.7"/>
<line x1="209.6" y1="610.1" x2="209.6" y2="676.6" stroke="#086c61" stroke-width="1.5"/>
<line x1="208" y1="610.1" x2="211.2" y2="610.1" stroke="#086c61" stroke-width="1.3"/>
<path d="M208.9 670.1h1.4L213.2 677.8V723.1H205.9V677.8Z" fill="#086c61"/>
<path d="M205.9 678.3V723.1M213.3 679.1V723.1" stroke="#086c61" stroke-width="0.9" stroke-dasharray="3 0.6" fill="none"/>
<use href="#mt" x="209.6" y="721.7"/>
<line x1="208.1" y1="716.6" x2="211.1" y2="716.6" stroke="#fff" stroke-width="0.8" opacity="0.6"/>
<rect x="206.7" y="630.1" width="5.7" height="17.6" fill="url(#hg)" stroke="#086c61" stroke-width="1.25"/>
<line x1="206.7" y1="639.4" x2="212.4" y2="639.4" stroke="#086c61" stroke-width="1"/>
<use href="#st" x="209.6" y="639.6"/>
<line x1="231" y1="585.5" x2="231" y2="681.2" stroke="#4757a2" stroke-width="1.5"/>
<line x1="229.4" y1="585.5" x2="232.6" y2="585.5" stroke="#4757a2" stroke-width="1.3"/>
<line x1="231" y1="681.4" x2="231" y2="718.9" stroke="#4757a2" stroke-width="7.9" stroke-linecap="round"/>
<use href="#mc" x="231" y="678.7"/>
<use href="#mc" x="231" y="721.6"/>
<line x1="229.5" y1="686.7" x2="232.5" y2="686.7" stroke="#fff" stroke-width="0.8" opacity="0.6"/>
<line x1="229.5" y1="717.6" x2="232.5" y2="717.6" stroke="#fff" stroke-width="0.8" opacity="0.6"/>
<rect x="228.2" y="614.7" width="5.7" height="25.7" fill="url(#hb)" stroke="#4757a2" stroke-width="1.25"/>
<line x1="228.2" y1="628" x2="233.8" y2="628" stroke="#4757a2" stroke-width="1"/>
<use href="#st" x="231" y="629"/>
<line x1="240.2" y1="617.9" x2="240.2" y2="697.7" stroke="#a7372b" stroke-width="1.5"/>
<rect x="236.2" y="694" width="7.9" height="28.8" fill="#a7372b"/>
<use href="#ms" x="240.2" y="695.2"/>
<use href="#ms" x="240.2" y="721.6"/>
<use href="#ms" x="240.2" y="617.4"/>
<rect x="237.3" y="647.7" width="5.7" height="18.4" fill="url(#hr)" stroke="#a7372b" stroke-width="1.25"/>
<line x1="237.3" y1="657.4" x2="243" y2="657.4" stroke="#a7372b" stroke-width="1"/>
<use href="#st" x="240.2" y="657.4"/>
<line x1="249.4" y1="608.5" x2="249.4" y2="690.1" stroke="#086c61" stroke-width="1.5"/>
<line x1="247.8" y1="608.5" x2="251" y2="608.5" stroke="#086c61" stroke-width="1.3"/>
<path d="M248.7 683.6h1.4L253 691.3V723.1H245.7V691.3Z" fill="#086c61"/>
<path d="M245.7 691.8V723.1M253.1 692.6V723.1" stroke="#086c61" stroke-width="0.9" stroke-dasharray="3 0.6" fill="none"/>
<use href="#mt" x="249.4" y="721.7"/>
<line x1="247.9" y1="696.6" x2="250.9" y2="696.6" stroke="#fff" stroke-width="0.8" opacity="0.6"/>
<line x1="247.9" y1="702.5" x2="250.9" y2="702.5" stroke="#fff" stroke-width="0.8" opacity="0.6"/>
<rect x="246.5" y="633.6" width="5.7" height="20.3" fill="url(#hg)" stroke="#086c61" stroke-width="1.25"/>
<line x1="246.5" y1="644.2" x2="252.2" y2="644.2" stroke="#086c61" stroke-width="1"/>
<use href="#st" x="249.4" y="645.2"/>
</g>
<g>
<line x1="291" y1="607.6" x2="291" y2="645.2" stroke="#4757a2" stroke-width="1.5"/>
<line x1="291" y1="588.9" x2="291" y2="606.7" stroke="#4757a2" stroke-width="7.9" stroke-linecap="round"/>
<use href="#mc" x="291" y="586.2"/>
<line x1="291" y1="701.1" x2="291" y2="716.8" stroke="#4757a2" stroke-width="7.9" stroke-linecap="round"/>
<use href="#mc" x="291" y="698.4"/>
<use href="#mc" x="291" y="719.5"/>
<use href="#mc" x="291" y="684.9"/>
<use href="#mc" x="291" y="689.1"/>
<use href="#mc" x="291" y="579"/>
<use href="#mc" x="291" y="649"/>
<rect x="288.1" y="622.2" width="5.7" height="11.4" fill="url(#hb)" stroke="#4757a2" stroke-width="1.25"/>
<line x1="288.1" y1="628.4" x2="293.9" y2="628.4" stroke="#4757a2" stroke-width="1"/>
<use href="#st" x="291" y="627.7"/>
<line x1="300.2" y1="649.5" x2="300.2" y2="684.7" stroke="#a7372b" stroke-width="1.5"/>
<rect x="296.2" y="622.9" width="7.9" height="29.7" fill="#a7372b"/>
<use href="#ms" x="300.2" y="624"/>
<rect x="296.2" y="678.2" width="7.9" height="14.9" fill="#a7372b"/>
<rect x="296.2" y="697.3" width="7.9" height="23.3" fill="#a7372b"/>
<use href="#ms" x="300.2" y="698.4"/>
<use href="#ms" x="300.2" y="719.5"/>
<rect x="297.3" y="660.1" width="5.7" height="9.2" fill="url(#hr)" stroke="#a7372b" stroke-width="1.25"/>
<line x1="297.3" y1="665.2" x2="303.1" y2="665.2" stroke="#a7372b" stroke-width="1"/>
<use href="#st" x="300.2" y="664.7"/>
<line x1="309.4" y1="633.3" x2="309.4" y2="661.7" stroke="#086c61" stroke-width="1.5"/>
<path d="M308.7 604.7h1.4L313 612.3V636.3H305.8V612.3Z" fill="#086c61"/>
<path d="M305.7 612.9V636.3M313.1 613.7V636.3" stroke="#086c61" stroke-width="0.9" stroke-dasharray="3 0.6" fill="none"/>
<path d="M308.7 655.2h1.4L313 662.9V668.8H305.8V662.9Z" fill="#086c61"/>
<path d="M305.7 663.4V668.8M313.1 664.2V668.8" stroke="#086c61" stroke-width="0.9" stroke-dasharray="3 0.6" fill="none"/>
<path d="M308.7 694.5h1.4L313 702.1V720.4H305.8V702.1Z" fill="#086c61"/>
<path d="M305.7 702.7V720.4M313.1 703.5V720.4" stroke="#086c61" stroke-width="0.9" stroke-dasharray="3 0.6" fill="none"/>
<use href="#mt" x="309.4" y="719"/>
<use href="#mt" x="309.4" y="684.9"/>
<use href="#mt" x="309.4" y="689.1"/>
<use href="#mt" x="309.4" y="601.1"/>
<rect x="306.5" y="641.2" width="5.7" height="9.5" fill="url(#hg)" stroke="#086c61" stroke-width="1.25"/>
<line x1="306.5" y1="646.4" x2="312.2" y2="646.4" stroke="#086c61" stroke-width="1"/>
<use href="#st" x="309.4" y="645.8"/>
<line x1="330.8" y1="615.7" x2="330.8" y2="675.8" stroke="#4757a2" stroke-width="1.5"/>
<line x1="330.8" y1="592.1" x2="330.8" y2="614.8" stroke="#4757a2" stroke-width="7.9" stroke-linecap="round"/>
<use href="#mc" x="330.8" y="589.4"/>
<line x1="330.8" y1="673.3" x2="330.8" y2="675.6" stroke="#4757a2" stroke-width="7.9" stroke-linecap="round"/>
<line x1="330.8" y1="702.5" x2="330.8" y2="720.3" stroke="#4757a2" stroke-width="7.9" stroke-linecap="round"/>
<use href="#mc" x="330.8" y="699.8"/>
<use href="#mc" x="330.8" y="723"/>
<line x1="329.3" y1="706.8" x2="332.3" y2="706.8" stroke="#fff" stroke-width="0.8" opacity="0.6"/>
<line x1="329.3" y1="717.9" x2="332.3" y2="717.9" stroke="#fff" stroke-width="0.8" opacity="0.6"/>
<use href="#mc" x="330.8" y="656.5"/>
<use href="#mc" x="330.8" y="662.1"/>
<use href="#mc" x="330.8" y="686.3"/>
<use href="#mc" x="330.8" y="691.8"/>
<rect x="327.9" y="630.9" width="5.7" height="8.1" fill="url(#hb)" stroke="#4757a2" stroke-width="1.25"/>
<line x1="327.9" y1="635.5" x2="333.7" y2="635.5" stroke="#4757a2" stroke-width="1"/>
<use href="#st" x="330.8" y="635"/>
<line x1="340" y1="641.4" x2="340" y2="692" stroke="#a7372b" stroke-width="1.5"/>
<rect x="336.1" y="629.5" width="7.9" height="14.9" fill="#a7372b"/>
<rect x="336.1" y="688.3" width="7.9" height="35.8" fill="#a7372b"/>
<use href="#ms" x="340" y="689.5"/>
<use href="#ms" x="340" y="723"/>
<line x1="338.5" y1="694.5" x2="341.5" y2="694.5" stroke="#fff" stroke-width="0.8" opacity="0.6"/>
<use href="#ms" x="340" y="622.8"/>
<rect x="337.1" y="660.7" width="5.7" height="8.9" fill="url(#hr)" stroke="#a7372b" stroke-width="1.25"/>
<line x1="337.1" y1="665.6" x2="342.9" y2="665.6" stroke="#a7372b" stroke-width="1"/>
<use href="#st" x="340" y="665.3"/>
<line x1="349.2" y1="633.3" x2="349.2" y2="669.9" stroke="#086c61" stroke-width="1.5"/>
<path d="M348.5 607.9h1.4L352.8 615.6V636.3H345.6V615.6Z" fill="#086c61"/>
<path d="M345.5 616.1V636.3M352.9 616.9V636.3" stroke="#086c61" stroke-width="0.9" stroke-dasharray="3 0.6" fill="none"/>
<path d="M348.5 663.4h1.4L352.8 671V680.1H345.6V671Z" fill="#086c61"/>
<path d="M345.5 671.6V680.1M352.9 672.4V680.1" stroke="#086c61" stroke-width="0.9" stroke-dasharray="3 0.6" fill="none"/>
<path d="M348.5 701.8h1.4L352.8 709.4V726.9H345.6V709.4Z" fill="#086c61"/>
<path d="M345.5 710V726.9M352.9 710.8V726.9" stroke="#086c61" stroke-width="0.9" stroke-dasharray="3 0.6" fill="none"/>
<use href="#mt" x="349.2" y="683"/>
<use href="#mt" x="349.2" y="686.4"/>
<use href="#mt" x="349.2" y="689.8"/>
<use href="#mt" x="349.2" y="693.2"/>
<use href="#mt" x="349.2" y="696.6"/>
<use href="#mt" x="349.2" y="699.9"/>
<rect x="346.3" y="645" width="5.7" height="8.9" fill="url(#hg)" stroke="#086c61" stroke-width="1.25"/>
<line x1="346.3" y1="649.9" x2="352.1" y2="649.9" stroke="#086c61" stroke-width="1"/>
<use href="#st" x="349.2" y="649.3"/>
<line x1="370.6" y1="618.4" x2="370.6" y2="659" stroke="#4757a2" stroke-width="1.5"/>
<line x1="370.6" y1="592.1" x2="370.6" y2="617.5" stroke="#4757a2" stroke-width="7.9" stroke-linecap="round"/>
<use href="#mc" x="370.6" y="589.4"/>
<line x1="370.6" y1="659.2" x2="370.6" y2="672.9" stroke="#4757a2" stroke-width="7.9" stroke-linecap="round"/>
<use href="#mc" x="370.6" y="656.5"/>
<use href="#mc" x="370.6" y="675.6"/>
<line x1="370.6" y1="702.5" x2="370.6" y2="721.1" stroke="#4757a2" stroke-width="7.9" stroke-linecap="round"/>
<use href="#mc" x="370.6" y="699.8"/>
<use href="#mc" x="370.6" y="723.8"/>
<use href="#mc" x="370.6" y="682.6"/>
<use href="#mc" x="370.6" y="694.2"/>
<rect x="367.7" y="631.2" width="5.7" height="9.5" fill="url(#hb)" stroke="#4757a2" stroke-width="1.25"/>
<line x1="367.7" y1="636.4" x2="373.4" y2="636.4" stroke="#4757a2" stroke-width="1"/>
<use href="#st" x="370.6" y="635.8"/>
<line x1="379.8" y1="639.5" x2="379.8" y2="693.9" stroke="#a7372b" stroke-width="1.5"/>
<rect x="375.8" y="628.2" width="7.9" height="14.3" fill="#a7372b"/>
<rect x="375.8" y="690.2" width="7.9" height="34.7" fill="#a7372b"/>
<use href="#ms" x="379.8" y="691.4"/>
<use href="#ms" x="379.8" y="723.8"/>
<line x1="378.3" y1="705.6" x2="381.3" y2="705.6" stroke="#fff" stroke-width="0.8" opacity="0.6"/>
<line x1="378.3" y1="716.7" x2="381.3" y2="716.7" stroke="#fff" stroke-width="0.8" opacity="0.6"/>
<use href="#ms" x="379.8" y="622.8"/>
<rect x="376.9" y="659" width="5.7" height="10.3" fill="url(#hr)" stroke="#a7372b" stroke-width="1.25"/>
<line x1="376.9" y1="664.7" x2="382.6" y2="664.7" stroke="#a7372b" stroke-width="1"/>
<use href="#st" x="379.8" y="664.4"/>
<line x1="389" y1="632" x2="389" y2="669.3" stroke="#086c61" stroke-width="1.5"/>
<path d="M388.3 607.9h1.4L392.6 615.6V635H385.3V615.6Z" fill="#086c61"/>
<path d="M385.3 616.1V635M392.7 616.9V635" stroke="#086c61" stroke-width="0.9" stroke-dasharray="3 0.6" fill="none"/>
<path d="M388.3 662.8h1.4L392.6 670.5V725.2H385.3V670.5Z" fill="#086c61"/>
<path d="M385.3 671V725.2M392.7 671.8V725.2" stroke="#086c61" stroke-width="0.9" stroke-dasharray="3 0.6" fill="none"/>
<use href="#mt" x="389" y="723.8"/>
<line x1="387.5" y1="671.8" x2="390.5" y2="671.8" stroke="#fff" stroke-width="0.8" opacity="0.6"/>
<rect x="386.1" y="645" width="5.7" height="9.5" fill="url(#hg)" stroke="#086c61" stroke-width="1.25"/>
<line x1="386.1" y1="650.2" x2="391.8" y2="650.2" stroke="#086c61" stroke-width="1"/>
<use href="#st" x="389" y="649.8"/>
<line x1="410.4" y1="619.8" x2="410.4" y2="660.4" stroke="#4757a2" stroke-width="1.5"/>
<line x1="410.4" y1="598.3" x2="410.4" y2="618.8" stroke="#4757a2" stroke-width="7.9" stroke-linecap="round"/>
<use href="#mc" x="410.4" y="595.6"/>
<line x1="410.4" y1="660.5" x2="410.4" y2="674.3" stroke="#4757a2" stroke-width="7.9" stroke-linecap="round"/>
<use href="#mc" x="410.4" y="657.8"/>
<use href="#mc" x="410.4" y="677"/>
<line x1="410.4" y1="701.9" x2="410.4" y2="721.1" stroke="#4757a2" stroke-width="7.9" stroke-linecap="round"/>
<use href="#mc" x="410.4" y="699.2"/>
<use href="#mc" x="410.4" y="723.8"/>
<line x1="408.9" y1="705.3" x2="411.9" y2="705.3" stroke="#fff" stroke-width="0.8" opacity="0.6"/>
<line x1="408.9" y1="709.9" x2="411.9" y2="709.9" stroke="#fff" stroke-width="0.8" opacity="0.6"/>
<use href="#mc" x="410.4" y="684.1"/>
<rect x="407.5" y="632.3" width="5.7" height="9.5" fill="url(#hb)" stroke="#4757a2" stroke-width="1.25"/>
<line x1="407.5" y1="637.5" x2="413.2" y2="637.5" stroke="#4757a2" stroke-width="1"/>
<use href="#st" x="410.4" y="637.1"/>
<line x1="419.6" y1="635.2" x2="419.6" y2="696.4" stroke="#a7372b" stroke-width="1.5"/>
<rect x="415.6" y="692.7" width="7.9" height="32.8" fill="#a7372b"/>
<use href="#ms" x="419.6" y="693.8"/>
<use href="#ms" x="419.6" y="724.3"/>
<line x1="418.1" y1="702.9" x2="421.1" y2="702.9" stroke="#fff" stroke-width="0.8" opacity="0.6"/>
<use href="#ms" x="419.6" y="626.8"/>
<use href="#ms" x="419.6" y="629.3"/>
<use href="#ms" x="419.6" y="631.8"/>
<rect x="416.7" y="657.9" width="5.7" height="12.2" fill="url(#hr)" stroke="#a7372b" stroke-width="1.25"/>
<line x1="416.7" y1="664.5" x2="422.4" y2="664.5" stroke="#a7372b" stroke-width="1"/>
<use href="#st" x="419.6" y="664.2"/>
<line x1="428.8" y1="632.8" x2="428.8" y2="671.2" stroke="#086c61" stroke-width="1.5"/>
<path d="M428.1 614.7h1.4L432.4 622.3V635.8H425.1V622.3Z" fill="#086c61"/>
<path d="M425.1 622.9V635.8M432.5 623.7V635.8" stroke="#086c61" stroke-width="0.9" stroke-dasharray="3 0.6" fill="none"/>
<path d="M428.1 664.7h1.4L432.4 672.4V725.8H425.1V672.4Z" fill="#086c61"/>
<path d="M425.1 672.9V725.8M432.5 673.7V725.8" stroke="#086c61" stroke-width="0.9" stroke-dasharray="3 0.6" fill="none"/>
<use href="#mt" x="428.8" y="724.4"/>
<line x1="427.3" y1="719.3" x2="430.3" y2="719.3" stroke="#fff" stroke-width="0.8" opacity="0.6"/>
<rect x="425.9" y="645.2" width="5.7" height="9.2" fill="url(#hg)" stroke="#086c61" stroke-width="1.25"/>
<line x1="425.9" y1="650.3" x2="431.6" y2="650.3" stroke="#086c61" stroke-width="1"/>
<use href="#st" x="428.8" y="649.8"/>
<line x1="450.2" y1="621.1" x2="450.2" y2="663.9" stroke="#4757a2" stroke-width="1.5"/>
<line x1="450.2" y1="598.3" x2="450.2" y2="620.2" stroke="#4757a2" stroke-width="7.9" stroke-linecap="round"/>
<use href="#mc" x="450.2" y="595.6"/>
<line x1="450.2" y1="664.1" x2="450.2" y2="683.8" stroke="#4757a2" stroke-width="7.9" stroke-linecap="round"/>
<use href="#mc" x="450.2" y="661.4"/>
<use href="#mc" x="450.2" y="686.5"/>
<line x1="448.7" y1="669.4" x2="451.7" y2="669.4" stroke="#fff" stroke-width="0.8" opacity="0.6"/>
<line x1="448.7" y1="682.4" x2="451.7" y2="682.4" stroke="#fff" stroke-width="0.8" opacity="0.6"/>
<line x1="450.2" y1="711.9" x2="450.2" y2="724.3" stroke="#4757a2" stroke-width="7.9" stroke-linecap="round"/>
<use href="#mc" x="450.2" y="709.2"/>
<use href="#mc" x="450.2" y="727"/>
<use href="#mc" x="450.2" y="693.8"/>
<rect x="447.3" y="635" width="5.7" height="9.5" fill="url(#hb)" stroke="#4757a2" stroke-width="1.25"/>
<line x1="447.3" y1="640.2" x2="453.1" y2="640.2" stroke="#4757a2" stroke-width="1"/>
<use href="#st" x="450.2" y="639.8"/>
<line x1="459.4" y1="632" x2="459.4" y2="699.1" stroke="#a7372b" stroke-width="1.5"/>
<rect x="455.4" y="620.9" width="7.9" height="14.1" fill="#a7372b"/>
<rect x="455.4" y="695.4" width="7.9" height="32.8" fill="#a7372b"/>
<use href="#ms" x="459.4" y="696.5"/>
<use href="#ms" x="459.4" y="727"/>
<rect x="456.5" y="654.4" width="5.7" height="15.7" fill="url(#hr)" stroke="#a7372b" stroke-width="1.25"/>
<line x1="456.5" y1="662.8" x2="462.2" y2="662.8" stroke="#a7372b" stroke-width="1"/>
<use href="#st" x="459.4" y="662.5"/>
<line x1="468.6" y1="630.6" x2="468.6" y2="677.4" stroke="#086c61" stroke-width="1.5"/>
<path d="M467.9 614.1h1.4L472.2 621.8V633.6H464.9V621.8Z" fill="#086c61"/>
<path d="M464.9 622.3V633.6M472.3 623.1V633.6" stroke="#086c61" stroke-width="0.9" stroke-dasharray="3 0.6" fill="none"/>
<path d="M467.9 670.9h1.4L472.2 678.6V698.7H464.9V678.6Z" fill="#086c61"/>
<path d="M464.9 679.1V698.7M472.3 679.9V698.7" stroke="#086c61" stroke-width="0.9" stroke-dasharray="3 0.6" fill="none"/>
<use href="#mt" x="468.6" y="697.3"/>
<line x1="467.1" y1="683.9" x2="470.1" y2="683.9" stroke="#fff" stroke-width="0.8" opacity="0.6"/>
<line x1="467.1" y1="684.6" x2="470.1" y2="684.6" stroke="#fff" stroke-width="0.8" opacity="0.6"/>
<path d="M467.9 706.6h1.4L472.2 714.3V731H464.9V714.3Z" fill="#086c61"/>
<path d="M464.9 714.8V731M472.3 715.6V731" stroke="#086c61" stroke-width="0.9" stroke-dasharray="3 0.6" fill="none"/>
<use href="#mt" x="468.6" y="704.6"/>
<rect x="465.7" y="647.1" width="5.7" height="10" fill="url(#hg)" stroke="#086c61" stroke-width="1.25"/>
<line x1="465.7" y1="652.6" x2="471.4" y2="652.6" stroke="#086c61" stroke-width="1"/>
<use href="#st" x="468.6" y="652.5"/>
</g>
<g>
<line x1="510.5" y1="575.2" x2="510.5" y2="619.8" stroke="#4757a2" stroke-width="1.5"/>
<line x1="510.5" y1="572.1" x2="510.5" y2="574.2" stroke="#4757a2" stroke-width="7.9" stroke-linecap="round"/>
<line x1="510.5" y1="620" x2="510.5" y2="640.5" stroke="#4757a2" stroke-width="7.9" stroke-linecap="round"/>
<use href="#mc" x="510.5" y="617.3"/>
<use href="#mc" x="510.5" y="643.2"/>
<line x1="509" y1="622.3" x2="512" y2="622.3" stroke="#fff" stroke-width="0.8" opacity="0.6"/>
<line x1="509" y1="628.5" x2="512" y2="628.5" stroke="#fff" stroke-width="0.8" opacity="0.6"/>
<line x1="510.5" y1="666" x2="510.5" y2="682.4" stroke="#4757a2" stroke-width="7.9" stroke-linecap="round"/>
<use href="#mc" x="510.5" y="663.3"/>
<use href="#mc" x="510.5" y="685.1"/>
<use href="#mc" x="510.5" y="708"/>
<use href="#mc" x="510.5" y="698.5"/>
<rect x="507.7" y="591.7" width="5.7" height="9.5" fill="url(#hb)" stroke="#4757a2" stroke-width="1.25"/>
<line x1="507.7" y1="596.9" x2="513.4" y2="596.9" stroke="#4757a2" stroke-width="1"/>
<use href="#st" x="510.5" y="596.5"/>
<line x1="519.7" y1="621.1" x2="519.7" y2="664.4" stroke="#a7372b" stroke-width="1.5"/>
<rect x="515.8" y="612.5" width="7.9" height="11.6" fill="#a7372b"/>
<rect x="515.8" y="660.7" width="7.9" height="26.3" fill="#a7372b"/>
<use href="#ms" x="519.7" y="661.9"/>
<use href="#ms" x="519.7" y="685.9"/>
<use href="#ms" x="519.7" y="708"/>
<use href="#ms" x="519.7" y="698.5"/>
<rect x="516.9" y="636.3" width="5.7" height="9.5" fill="url(#hr)" stroke="#a7372b" stroke-width="1.25"/>
<line x1="516.9" y1="641.5" x2="522.6" y2="641.5" stroke="#a7372b" stroke-width="1"/>
<use href="#st" x="519.7" y="641.2"/>
<line x1="528.9" y1="598.1" x2="528.9" y2="642.8" stroke="#086c61" stroke-width="1.5"/>
<path d="M528.2 589.8h1.4L532.6 597.4V601.1H525.3V597.4Z" fill="#086c61"/>
<path d="M525.2 598V601.1M532.6 598.8V601.1" stroke="#086c61" stroke-width="0.9" stroke-dasharray="3 0.6" fill="none"/>
<path d="M528.2 636.3h1.4L532.6 644V687.4H525.3V644Z" fill="#086c61"/>
<path d="M525.2 644.5V687.4M532.6 645.3V687.4" stroke="#086c61" stroke-width="0.9" stroke-dasharray="3 0.6" fill="none"/>
<use href="#mt" x="528.9" y="686"/>
<line x1="527.4" y1="646.3" x2="530.4" y2="646.3" stroke="#fff" stroke-width="0.8" opacity="0.6"/>
<line x1="527.4" y1="679.9" x2="530.4" y2="679.9" stroke="#fff" stroke-width="0.8" opacity="0.6"/>
<use href="#mt" x="528.9" y="708"/>
<use href="#mt" x="528.9" y="698.5"/>
<rect x="526.1" y="613.9" width="5.7" height="10.3" fill="url(#hg)" stroke="#086c61" stroke-width="1.25"/>
<line x1="526.1" y1="619.5" x2="531.8" y2="619.5" stroke="#086c61" stroke-width="1"/>
<use href="#st" x="528.9" y="619.3"/>
<line x1="550.3" y1="583.5" x2="550.3" y2="626" stroke="#4757a2" stroke-width="1.5"/>
<line x1="550.3" y1="626.2" x2="550.3" y2="700" stroke="#4757a2" stroke-width="7.9" stroke-linecap="round"/>
<use href="#mc" x="550.3" y="623.5"/>
<use href="#mc" x="550.3" y="702.7"/>
<line x1="548.8" y1="697.6" x2="551.8" y2="697.6" stroke="#fff" stroke-width="0.8" opacity="0.6"/>
<use href="#mc" x="550.3" y="583"/>
<rect x="547.4" y="598.4" width="5.7" height="9.5" fill="url(#hb)" stroke="#4757a2" stroke-width="1.25"/>
<line x1="547.4" y1="603.7" x2="553.1" y2="603.7" stroke="#4757a2" stroke-width="1"/>
<use href="#st" x="550.3" y="603.9"/>
<line x1="559.5" y1="629.3" x2="559.5" y2="669.9" stroke="#a7372b" stroke-width="1.5"/>
<rect x="555.5" y="611.5" width="7.9" height="20.7" fill="#a7372b"/>
<use href="#ms" x="559.5" y="612.7"/>
<rect x="555.5" y="666.2" width="7.9" height="38.2" fill="#a7372b"/>
<use href="#ms" x="559.5" y="667.3"/>
<use href="#ms" x="559.5" y="703.2"/>
<line x1="558" y1="672.4" x2="561" y2="672.4" stroke="#fff" stroke-width="0.8" opacity="0.6"/>
<rect x="556.6" y="643.1" width="5.7" height="9.5" fill="url(#hr)" stroke="#a7372b" stroke-width="1.25"/>
<line x1="556.6" y1="648.3" x2="562.4" y2="648.3" stroke="#a7372b" stroke-width="1"/>
<use href="#st" x="559.5" y="647.9"/>
<line x1="568.7" y1="606.5" x2="568.7" y2="648.2" stroke="#086c61" stroke-width="1.5"/>
<path d="M568 641.7h1.4L572.4 649.4V704.7H565.1V649.4Z" fill="#086c61"/>
<path d="M565 649.9V704.7M572.4 650.7V704.7" stroke="#086c61" stroke-width="0.9" stroke-dasharray="3 0.6" fill="none"/>
<use href="#mt" x="568.7" y="703.3"/>
<line x1="567.2" y1="671.2" x2="570.2" y2="671.2" stroke="#fff" stroke-width="0.8" opacity="0.6"/>
<use href="#mt" x="568.7" y="606"/>
<rect x="565.9" y="621.4" width="5.7" height="10" fill="url(#hg)" stroke="#086c61" stroke-width="1.25"/>
<line x1="565.9" y1="626.9" x2="571.6" y2="626.9" stroke="#086c61" stroke-width="1"/>
<use href="#st" x="568.7" y="626.3"/>
<line x1="590.1" y1="584.1" x2="590.1" y2="627.9" stroke="#4757a2" stroke-width="1.5"/>
<line x1="588.5" y1="584.1" x2="591.7" y2="584.1" stroke="#4757a2" stroke-width="1.3"/>
<line x1="590.1" y1="628.1" x2="590.1" y2="697.8" stroke="#4757a2" stroke-width="7.9" stroke-linecap="round"/>
<use href="#mc" x="590.1" y="625.4"/>
<use href="#mc" x="590.1" y="700.5"/>
<line x1="588.6" y1="634.4" x2="591.6" y2="634.4" stroke="#fff" stroke-width="0.8" opacity="0.6"/>
<rect x="587.2" y="599" width="5.7" height="11.6" fill="url(#hb)" stroke="#4757a2" stroke-width="1.25"/>
<line x1="587.2" y1="605.3" x2="593" y2="605.3" stroke="#4757a2" stroke-width="1"/>
<use href="#st" x="590.1" y="606"/>
<line x1="599.3" y1="630.1" x2="599.3" y2="671.2" stroke="#a7372b" stroke-width="1.5"/>
<rect x="595.4" y="616.1" width="7.9" height="16.9" fill="#a7372b"/>
<use href="#ms" x="599.3" y="617.3"/>
<rect x="595.4" y="667.5" width="7.9" height="34.2" fill="#a7372b"/>
<use href="#ms" x="599.3" y="668.7"/>
<use href="#ms" x="599.3" y="700.5"/>
<line x1="597.8" y1="682.6" x2="600.8" y2="682.6" stroke="#fff" stroke-width="0.8" opacity="0.6"/>
<line x1="597.8" y1="693.5" x2="600.8" y2="693.5" stroke="#fff" stroke-width="0.8" opacity="0.6"/>
<rect x="596.5" y="644.4" width="5.7" height="9.5" fill="url(#hr)" stroke="#a7372b" stroke-width="1.25"/>
<line x1="596.5" y1="649.7" x2="602.2" y2="649.7" stroke="#a7372b" stroke-width="1"/>
<use href="#st" x="599.3" y="649.3"/>
<line x1="608.5" y1="606.6" x2="608.5" y2="650.9" stroke="#086c61" stroke-width="1.5"/>
<line x1="606.9" y1="606.6" x2="610.1" y2="606.6" stroke="#086c61" stroke-width="1.3"/>
<path d="M607.8 644.4h1.4L612.2 652.1V702H604.9V652.1Z" fill="#086c61"/>
<path d="M604.8 652.6V702M612.2 653.4V702" stroke="#086c61" stroke-width="0.9" stroke-dasharray="3 0.6" fill="none"/>
<use href="#mt" x="608.5" y="700.6"/>
<line x1="607" y1="653.4" x2="610" y2="653.4" stroke="#fff" stroke-width="0.8" opacity="0.6"/>
<rect x="605.7" y="622" width="5.7" height="11.6" fill="url(#hg)" stroke="#086c61" stroke-width="1.25"/>
<line x1="605.7" y1="628.3" x2="611.4" y2="628.3" stroke="#086c61" stroke-width="1"/>
<use href="#st" x="608.5" y="628.2"/>
<line x1="629.9" y1="584.4" x2="629.9" y2="630.6" stroke="#4757a2" stroke-width="1.5"/>
<line x1="628.3" y1="584.4" x2="631.5" y2="584.4" stroke="#4757a2" stroke-width="1.3"/>
<line x1="629.9" y1="630.8" x2="629.9" y2="698.6" stroke="#4757a2" stroke-width="7.9" stroke-linecap="round"/>
<use href="#mc" x="629.9" y="628.1"/>
<use href="#mc" x="629.9" y="701.3"/>
<line x1="628.4" y1="660.7" x2="631.4" y2="660.7" stroke="#fff" stroke-width="0.8" opacity="0.6"/>
<rect x="627" y="600.3" width="5.7" height="11.6" fill="url(#hb)" stroke="#4757a2" stroke-width="1.25"/>
<line x1="627" y1="606.7" x2="632.8" y2="606.7" stroke="#4757a2" stroke-width="1"/>
<use href="#st" x="629.9" y="607.9"/>
<line x1="639.1" y1="630.1" x2="639.1" y2="673.9" stroke="#a7372b" stroke-width="1.5"/>
<rect x="635.1" y="611.5" width="7.9" height="21.5" fill="#a7372b"/>
<use href="#ms" x="639.1" y="612.7"/>
<rect x="635.1" y="670.2" width="7.9" height="33.1" fill="#a7372b"/>
<use href="#ms" x="639.1" y="671.4"/>
<use href="#ms" x="639.1" y="702.1"/>
<line x1="637.6" y1="680.4" x2="640.6" y2="680.4" stroke="#fff" stroke-width="0.8" opacity="0.6"/>
<rect x="636.2" y="645.2" width="5.7" height="10" fill="url(#hr)" stroke="#a7372b" stroke-width="1.25"/>
<line x1="636.2" y1="650.7" x2="642" y2="650.7" stroke="#a7372b" stroke-width="1"/>
<use href="#st" x="639.1" y="650.6"/>
<line x1="648.3" y1="607.1" x2="648.3" y2="653.6" stroke="#086c61" stroke-width="1.5"/>
<line x1="646.7" y1="607.1" x2="649.9" y2="607.1" stroke="#086c61" stroke-width="1.3"/>
<path d="M647.6 647.1h1.4L652 654.8V703.6H644.7V654.8Z" fill="#086c61"/>
<path d="M644.6 655.3V703.6M652 656.1V703.6" stroke="#086c61" stroke-width="0.9" stroke-dasharray="3 0.6" fill="none"/>
<use href="#mt" x="648.3" y="702.2"/>
<line x1="646.8" y1="697.1" x2="649.8" y2="697.1" stroke="#fff" stroke-width="0.8" opacity="0.6"/>
<rect x="645.5" y="622.8" width="5.7" height="12.2" fill="url(#hg)" stroke="#086c61" stroke-width="1.25"/>
<line x1="645.5" y1="629.4" x2="651.2" y2="629.4" stroke="#086c61" stroke-width="1"/>
<use href="#st" x="648.3" y="630.1"/>
<line x1="669.7" y1="584.9" x2="669.7" y2="682" stroke="#4757a2" stroke-width="1.5"/>
<line x1="668.1" y1="584.9" x2="671.3" y2="584.9" stroke="#4757a2" stroke-width="1.3"/>
<line x1="669.7" y1="682.2" x2="669.7" y2="695.1" stroke="#4757a2" stroke-width="7.9" stroke-linecap="round"/>
<use href="#mc" x="669.7" y="679.5"/>
<use href="#mc" x="669.7" y="697.8"/>
<rect x="666.9" y="603.3" width="5.7" height="30.3" fill="url(#hb)" stroke="#4757a2" stroke-width="1.25"/>
<line x1="666.9" y1="619" x2="672.6" y2="619" stroke="#4757a2" stroke-width="1"/>
<use href="#st" x="669.7" y="617.9"/>
<line x1="678.9" y1="624.7" x2="678.9" y2="689.6" stroke="#a7372b" stroke-width="1.5"/>
<rect x="675" y="612" width="7.9" height="15.7" fill="#a7372b"/>
<rect x="675" y="685.9" width="7.9" height="16.6" fill="#a7372b"/>
<use href="#ms" x="678.9" y="687.1"/>
<use href="#ms" x="678.9" y="701.3"/>
<rect x="676.1" y="647.9" width="5.7" height="15.4" fill="url(#hr)" stroke="#a7372b" stroke-width="1.25"/>
<line x1="676.1" y1="656.2" x2="681.8" y2="656.2" stroke="#a7372b" stroke-width="1"/>
<use href="#st" x="678.9" y="656.1"/>
<line x1="688.1" y1="607.9" x2="688.1" y2="701.8" stroke="#086c61" stroke-width="1.5"/>
<line x1="686.5" y1="607.9" x2="689.7" y2="607.9" stroke="#086c61" stroke-width="1.3"/>
<path d="M687.4 695.3h1.4L691.8 702.9V704.5H684.5V702.9Z" fill="#086c61"/>
<path d="M684.4 703.5V704.5M691.8 704.3V704.5" stroke="#086c61" stroke-width="0.9" stroke-dasharray="3 0.6" fill="none"/>
<rect x="685.3" y="625.5" width="5.7" height="28.9" fill="url(#hg)" stroke="#086c61" stroke-width="1.25"/>
<line x1="685.3" y1="640.5" x2="691" y2="640.5" stroke="#086c61" stroke-width="1"/>
<use href="#st" x="688.1" y="639"/>
</g>
</svg>
</body></html>
